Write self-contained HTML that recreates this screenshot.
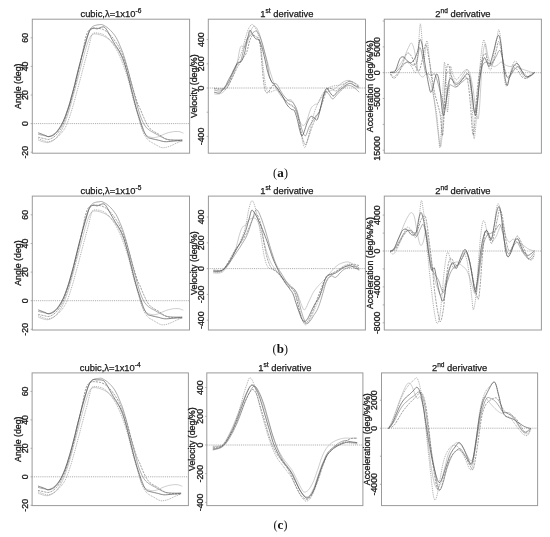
<!DOCTYPE html>
<html><head><meta charset="utf-8"><title>Figure</title>
<style>
html,body{margin:0;padding:0;background:#fff;}
svg{display:block;}
.wrap{width:550px;height:537px;overflow:hidden;}
.t{font-family:"Liberation Sans",Arial,sans-serif;font-size:8.8px;fill:#1a1a1a;stroke:#1a1a1a;stroke-width:0.3px;}
.tt{font-family:"Liberation Sans",Arial,sans-serif;font-size:9.4px;fill:#1a1a1a;stroke:#1a1a1a;stroke-width:0.25px;}
.cap{font-family:"Liberation Serif","Times New Roman",serif;font-size:13px;font-weight:bold;fill:#111;}
</style></head>
<body>
<div class="wrap"><svg width="550" height="537" viewBox="0 0 550 537">
<rect width="550" height="537" fill="#fff"/>
<line x1="32.3" x2="189.6" y1="123.6" y2="123.6" stroke="#8a8a8a" stroke-width="0.7" stroke-dasharray="1,0.9"/>
<polyline points="38.2,140.2 39.6,140.6 40.9,141.1 42.3,141.6 43.6,142.0 44.7,142.2 45.7,142.4 46.6,142.6 47.4,142.6 48.2,142.5 49.1,142.2 50.3,141.9 51.5,141.3 52.8,140.7 54.0,139.8 55.3,138.7 56.6,137.4 57.9,135.8 59.2,134.1 60.5,132.1 61.8,129.9 63.0,127.4 64.2,124.7 65.4,121.7 66.5,118.6 67.7,115.1 68.9,111.4 70.1,107.4 71.2,103.2 72.4,98.8 73.6,94.5 74.8,90.2 75.9,85.8 77.1,81.3 78.3,76.9 79.5,72.4 80.7,67.9 81.9,63.1 83.2,58.4 84.3,54.1 85.4,50.3 86.3,47.2 87.1,44.5 87.9,42.3 88.7,40.3 89.4,38.6 90.2,37.1 90.8,36.0 91.5,35.2 92.3,34.6 93.3,34.1 94.6,33.9 96.0,34.0 97.6,34.2 99.2,34.6 100.7,35.0 102.2,35.5 103.7,36.1 105.2,36.9 106.7,37.7 108.1,38.6 109.3,39.5 110.5,40.6 111.7,41.8 112.8,43.1 113.9,44.5 115.1,45.9 116.3,47.5 117.5,49.2 118.7,51.1 119.8,53.3 121.0,55.8 122.2,58.6 123.4,61.6 124.6,64.8 125.7,68.0 126.8,71.4 127.8,74.9 128.8,78.5 129.8,82.1 130.7,85.7 131.6,89.3 132.5,93.0 133.3,96.6 134.1,100.1 134.9,103.4 135.6,106.3 136.3,109.1 137.0,111.6 137.7,114.1 138.4,116.6 139.1,119.2 139.8,121.7 140.5,124.1 141.2,126.4 141.9,128.4 142.7,130.1 143.6,131.7 144.4,133.0 145.4,134.2 146.3,135.2 147.5,136.0 148.7,136.6 149.9,137.0 151.1,137.3 152.2,137.5 153.2,137.7 154.1,137.7 155.0,137.6 155.8,137.4 156.7,137.2 157.4,137.0 158.1,136.8 158.8,136.5 159.6,136.2 160.5,135.8 161.6,135.3 162.9,134.7 164.2,134.1 165.6,133.6 167.0,133.1 168.3,132.7 169.7,132.4 171.1,132.1 172.5,131.8 173.7,131.6 174.9,131.5 176.0,131.5 177.1,131.5 178.1,131.5 179.0,131.6 180.0,131.8 180.9,132.1 181.7,132.5 182.6,132.8 183.5,133.1" fill="none" stroke="#ababab" stroke-width="0.6"/>
<polyline points="38.2,138.7 39.6,139.2 40.9,139.7 42.3,140.3 43.6,140.7 44.7,141.1 45.7,141.4 46.5,141.6 47.3,141.8 48.1,141.8 49.1,141.7 50.4,141.3 51.8,140.8 53.2,140.2 54.8,139.3 56.3,138.1 58.0,136.7 59.7,134.9 61.5,132.9 63.2,130.8 64.8,128.4 66.1,125.9 67.3,123.2 68.4,120.2 69.5,117.1 70.6,113.7 71.8,110.0 73.0,105.9 74.2,101.7 75.4,97.4 76.5,93.1 77.7,88.7 78.9,84.3 80.1,79.9 81.3,75.4 82.4,71.0 83.7,66.4 84.9,61.6 86.2,57.0 87.3,52.6 88.3,48.9 89.1,45.7 89.7,43.0 90.3,40.7 90.7,38.8 91.2,37.1 91.6,35.8 91.9,34.8 92.2,34.1 92.7,33.7 93.3,33.3 94.3,33.0 95.4,32.9 96.7,32.9 98.0,33.1 99.2,33.3 100.4,33.5 101.6,33.9 102.8,34.3 103.9,34.9 105.1,35.6 106.3,36.5 107.5,37.6 108.6,38.8 109.8,40.1 111.0,41.5 112.2,43.0 113.4,44.6 114.5,46.4 115.7,48.2 116.9,50.3 118.1,52.6 119.2,55.1 120.4,57.8 121.6,60.6 122.8,63.6 124.0,66.9 125.2,70.4 126.4,74.0 127.6,77.7 128.7,81.3 129.7,84.9 130.6,88.6 131.5,92.3 132.3,95.8 133.1,98.9 133.9,101.7 134.6,104.1 135.3,106.3 135.9,108.5 136.6,110.7 137.3,113.1 138.1,115.5 138.8,117.9 139.5,120.2 140.2,122.5 140.8,124.8 141.5,127.0 142.1,129.1 142.8,131.1 143.4,132.8 144.0,134.2 144.6,135.3 145.2,136.2 145.8,137.0 146.3,137.8 146.9,138.5 147.3,139.2 147.8,139.7 148.3,140.2 149.0,140.8 149.8,141.4 150.8,141.9 151.8,142.5 152.9,143.1 154.0,143.7 155.2,144.4 156.6,145.2 158.0,146.0 159.3,146.7 160.5,147.3 161.5,147.5 162.4,147.7 163.2,147.7 164.0,147.7 164.9,147.5 165.9,147.4 166.9,147.1 168.0,146.8 169.1,146.5 170.2,146.1 171.3,145.6 172.4,145.1 173.5,144.5 174.6,144.0 175.8,143.4 177.0,142.9 178.3,142.4 179.6,141.8 181.0,141.3 182.3,140.8" fill="none" stroke="#767676" stroke-width="0.6" stroke-dasharray="1,0.9"/>
<polyline points="38.2,137.2 39.6,137.5 40.9,137.9 42.3,138.2 43.6,138.5 44.7,138.7 45.7,139.0 46.6,139.2 47.4,139.4 48.2,139.5 49.1,139.3 50.3,138.9 51.5,138.4 52.8,137.8 54.0,136.9 55.3,135.8 56.6,134.4 57.9,132.9 59.2,131.1 60.5,129.2 61.8,126.9 63.0,124.5 64.2,121.7 65.4,118.8 66.5,115.6 67.7,112.2 68.9,108.4 70.1,104.2 71.3,99.9 72.5,95.6 73.6,91.6 74.6,87.9 75.5,84.4 76.3,81.1 77.2,77.6 78.0,73.9 78.9,69.9 79.8,65.6 80.8,61.3 81.6,57.1 82.4,53.3 83.1,49.9 83.7,46.6 84.3,43.6 84.8,40.9 85.4,38.6 85.9,36.5 86.4,34.9 87.0,33.5 87.5,32.3 88.1,31.2 88.8,30.3 89.5,29.6 90.3,29.0 91.1,28.6 92.0,28.3 93.1,28.0 94.2,28.0 95.4,28.0 96.6,28.1 97.7,28.3 98.9,28.4 100.1,28.6 101.3,28.9 102.5,29.2 103.6,29.7 104.8,30.4 106.0,31.1 107.2,32.0 108.4,33.0 109.5,34.1 110.7,35.4 111.9,36.7 113.1,38.2 114.2,39.8 115.4,41.5 116.6,43.3 117.8,45.1 119.0,47.1 120.1,49.3 121.3,51.8 122.5,54.6 123.7,57.7 124.9,61.0 126.1,64.5 127.2,68.0 128.3,71.7 129.4,75.6 130.4,79.6 131.5,83.5 132.5,87.2 133.6,90.7 134.6,94.2 135.7,97.5 136.6,100.5 137.5,103.1 138.2,105.0 138.9,106.3 139.4,107.4 139.9,108.4 140.5,109.6 141.0,110.8 141.5,112.1 142.0,113.4 142.5,114.7 143.1,116.0 143.7,117.4 144.4,118.9 145.0,120.4 145.7,121.8 146.3,123.1 147.0,124.3 147.6,125.4 148.3,126.4 148.9,127.3 149.6,128.1 150.2,128.8 150.9,129.4 151.6,130.0 152.3,130.5 153.1,131.1 154.1,131.6 155.2,132.2 156.3,132.8 157.4,133.4 158.4,134.0 159.4,134.6 160.2,135.3 161.1,136.0 162.0,136.6 162.8,137.2 163.7,137.8 164.6,138.3 165.5,138.8 166.5,139.2 167.6,139.6 168.8,139.9 170.1,140.1 171.4,140.2 172.9,140.3 174.3,140.5 175.8,140.6 177.4,140.7 179.0,140.8 180.7,141.0 182.3,141.1" fill="none" stroke="#626262" stroke-width="0.6" stroke-dasharray="2.2,1"/>
<polyline points="38.2,134.3 39.6,134.6 40.9,134.9 42.3,135.2 43.6,135.5 44.7,135.8 45.7,136.0 46.6,136.3 47.4,136.5 48.2,136.5 49.1,136.4 50.3,136.0 51.5,135.5 52.8,134.8 54.0,133.9 55.3,132.8 56.6,131.5 57.9,130.0 59.2,128.2 60.5,126.2 61.8,124.0 63.0,121.5 64.2,118.8 65.4,115.9 66.5,112.7 67.7,109.3 68.9,105.6 70.1,101.6 71.2,97.4 72.4,93.0 73.6,88.6 74.8,84.1 75.9,79.3 77.1,74.4 78.3,69.6 79.5,65.1 80.7,60.6 81.9,56.3 83.2,52.0 84.3,48.1 85.4,44.5 86.3,41.2 87.1,38.2 87.9,35.6 88.7,33.2 89.4,31.2 90.2,29.6 90.9,28.4 91.6,27.5 92.4,26.8 93.3,26.2 94.4,25.6 95.6,25.3 96.9,25.0 98.1,24.8 99.2,24.7 100.1,24.6 100.8,24.5 101.4,24.5 102.1,24.7 103.0,25.0 104.2,25.6 105.4,26.3 106.8,27.2 108.2,28.3 109.5,29.4 110.8,30.7 112.2,32.2 113.5,33.8 114.8,35.5 116.0,37.4 117.2,39.5 118.3,41.8 119.4,44.3 120.4,46.7 121.3,48.9 122.1,50.8 122.8,52.6 123.4,54.3 123.9,56.1 124.6,58.0 125.2,60.1 125.8,62.3 126.5,64.6 127.1,66.9 127.8,69.5 128.5,72.2 129.3,75.1 130.0,78.0 130.8,81.1 131.6,84.2 132.5,87.5 133.4,91.0 134.3,94.5 135.2,97.9 136.0,101.0 136.8,103.9 137.5,106.6 138.2,109.1 138.9,111.5 139.6,113.7 140.3,115.7 141.0,117.7 141.7,119.4 142.4,121.0 143.1,122.5 143.8,123.8 144.5,125.0 145.2,126.0 145.9,126.9 146.6,127.8 147.4,128.6 148.2,129.3 149.0,129.9 149.9,130.5 150.8,131.1 151.7,131.7 152.8,132.2 153.8,132.8 155.0,133.4 156.1,134.0 157.2,134.6 158.4,135.3 159.6,136.0 160.8,136.7 162.0,137.2 163.0,137.7 163.9,138.2 164.9,138.6 165.9,139.0 167.0,139.3 168.2,139.5 169.5,139.7 170.8,139.8 172.2,139.8 173.7,139.9 175.3,139.9 177.0,139.9 178.8,139.9 180.5,139.9 182.3,139.9" fill="none" stroke="#747474" stroke-width="0.6"/>
<polyline points="38.2,132.8 39.6,133.3 40.9,133.8 42.3,134.3 43.6,134.8 44.7,135.2 45.7,135.6 46.6,136.0 47.4,136.4 48.2,136.7 49.1,136.6 50.3,136.4 51.5,136.1 52.8,135.5 54.0,134.8 55.3,133.7 56.6,132.4 57.9,130.8 59.2,128.9 60.5,126.9 61.8,124.6 63.0,122.1 64.2,119.4 65.4,116.4 66.5,113.3 67.7,109.8 68.9,106.2 70.1,102.2 71.2,98.0 72.4,93.7 73.6,89.2 74.8,84.6 75.9,79.7 77.1,74.8 78.3,69.8 79.5,65.1 80.7,60.4 81.9,55.6 83.2,51.0 84.3,46.7 85.4,43.0 86.3,39.8 87.1,37.1 87.9,34.8 88.7,32.8 89.4,31.2 90.2,30.0 91.0,29.2 91.8,28.8 92.6,28.5 93.3,28.3 94.1,28.2 94.9,28.3 95.6,28.6 96.4,28.8 97.2,28.8 97.9,28.7 98.6,28.3 99.3,28.0 100.0,27.6 100.7,27.4 101.4,27.2 102.1,27.0 102.9,26.9 103.6,26.9 104.2,27.1 104.8,27.5 105.4,28.1 106.0,28.8 106.6,29.7 107.2,30.6 107.8,31.6 108.4,32.7 109.0,33.9 109.7,35.2 110.4,36.5 111.2,37.9 112.1,39.5 113.0,41.1 113.9,42.7 114.8,44.2 115.7,45.5 116.5,46.7 117.3,47.9 118.1,49.2 119.0,50.6 119.8,52.2 120.7,53.9 121.6,55.6 122.5,57.6 123.4,59.8 124.2,62.3 125.1,65.0 125.9,67.9 126.7,70.9 127.5,73.9 128.3,76.9 129.1,80.1 129.9,83.2 130.6,86.3 131.3,89.2 132.0,92.0 132.7,94.6 133.3,97.2 134.0,99.6 134.6,101.9 135.1,104.0 135.7,106.0 136.2,107.9 136.7,109.6 137.2,111.3 137.7,112.9 138.2,114.5 138.7,115.9 139.1,117.3 139.6,118.7 140.0,120.0 140.4,121.3 140.8,122.5 141.2,123.7 141.6,124.9 142.0,126.0 142.5,127.2 142.9,128.3 143.3,129.4 143.7,130.5 144.1,131.5 144.5,132.4 144.9,133.3 145.3,134.1 145.8,134.9 146.2,135.5 146.6,136.1 147.1,136.7 147.5,137.1 148.1,137.5 148.7,137.9 149.4,138.1 150.2,138.3 151.0,138.5 151.9,138.7 153.1,139.0 154.3,139.3 155.7,139.6 157.1,139.9 158.4,140.2 159.7,140.5 160.9,140.9 162.1,141.2 163.5,141.5 164.9,141.7 166.5,141.7 168.3,141.6 170.1,141.4 172.0,141.2 173.7,141.1 175.5,140.9 177.2,140.7 178.9,140.6 180.6,140.4 182.3,140.2" fill="none" stroke="#505050" stroke-width="0.7"/>
<rect x="32.3" y="19.2" width="157.3" height="134.0" fill="none" stroke="#9a9a9a" stroke-width="1"/>
<line x1="30.7" x2="32.3" y1="37.8" y2="37.8" stroke="#9a9a9a" stroke-width="0.8"/>
<text x="28.1" y="37.8" transform="rotate(-90 28.1 37.8)" text-anchor="middle" class="t">60</text>
<line x1="30.7" x2="32.3" y1="66.4" y2="66.4" stroke="#9a9a9a" stroke-width="0.8"/>
<text x="28.1" y="66.4" transform="rotate(-90 28.1 66.4)" text-anchor="middle" class="t">40</text>
<line x1="30.7" x2="32.3" y1="95.0" y2="95.0" stroke="#9a9a9a" stroke-width="0.8"/>
<text x="28.1" y="95.0" transform="rotate(-90 28.1 95.0)" text-anchor="middle" class="t">20</text>
<line x1="30.7" x2="32.3" y1="123.6" y2="123.6" stroke="#9a9a9a" stroke-width="0.8"/>
<text x="28.1" y="123.6" transform="rotate(-90 28.1 123.6)" text-anchor="middle" class="t">0</text>
<line x1="30.7" x2="32.3" y1="152.2" y2="152.2" stroke="#9a9a9a" stroke-width="0.8"/>
<text x="28.1" y="152.2" transform="rotate(-90 28.1 152.2)" text-anchor="middle" class="t">-20</text>
<text x="20.9" y="86.2" transform="rotate(-90 20.9 86.2)" text-anchor="middle" class="t">Angle (deg)</text>
<text x="110.9" y="17.0" text-anchor="middle" class="tt">cubic,λ=1x10<tspan dy="-3.6" font-size="6.6">-6</tspan></text>
<line x1="208.3" x2="365.5" y1="88.0" y2="88.0" stroke="#8a8a8a" stroke-width="0.7" stroke-dasharray="1,0.9"/>
<polyline points="214.2,93.9 215.3,94.0 216.3,94.1 217.3,94.1 218.3,94.1 219.3,93.9 220.2,93.7 221.1,93.3 221.9,92.9 222.8,92.3 223.7,91.6 224.6,90.7 225.4,89.6 226.3,88.4 227.2,87.1 228.1,85.7 229.0,84.2 229.9,82.6 230.7,80.8 231.6,79.0 232.5,76.9 233.4,74.5 234.3,71.9 235.3,69.2 236.1,66.4 236.9,63.6 237.6,60.6 238.3,57.3 238.8,54.0 239.4,51.1 239.9,48.9 240.3,47.5 240.7,46.6 241.1,46.2 241.5,46.0 241.9,45.9 242.4,46.0 242.8,46.5 243.3,47.0 243.8,47.4 244.3,47.4 244.8,47.0 245.4,46.3 246.0,45.5 246.6,44.3 247.2,43.0 247.8,41.2 248.4,39.1 249.0,36.8 249.6,34.5 250.2,32.7 250.8,31.1 251.4,29.7 251.9,28.5 252.5,27.5 253.1,26.8 253.7,26.4 254.3,26.3 254.9,26.5 255.5,26.8 256.1,27.4 256.7,28.0 257.3,28.9 257.8,30.0 258.4,31.2 259.0,32.7 259.6,34.4 260.2,36.4 260.8,38.6 261.4,40.8 262.0,43.0 262.6,45.0 263.1,47.1 263.7,49.2 264.3,51.2 264.9,53.3 265.5,55.4 266.1,57.4 266.7,59.5 267.3,61.5 267.9,63.6 268.4,65.7 269.0,67.7 269.6,69.8 270.2,71.8 270.8,73.9 271.5,76.0 272.2,78.2 272.9,80.3 273.6,82.3 274.3,84.2 275.1,85.9 275.8,87.4 276.6,88.9 277.4,90.3 278.2,91.6 278.9,92.9 279.7,94.2 280.4,95.4 281.2,96.5 282.0,97.5 282.8,98.3 283.6,99.0 284.4,99.6 285.3,100.1 286.1,100.4 287.1,100.5 288.0,100.2 289.0,99.9 290.0,99.7 290.8,99.8 291.5,100.2 292.1,100.7 292.7,101.4 293.2,102.3 293.8,103.4 294.4,104.8 295.0,106.5 295.5,108.4 296.1,110.3 296.7,112.2 297.3,114.0 297.9,115.9 298.4,117.8 299.0,119.6 299.7,121.0 300.3,122.3 301.0,123.5 301.8,124.5 302.5,125.2 303.2,125.5 303.9,125.3 304.6,124.7 305.3,123.8 306.0,122.5 306.7,121.0 307.5,119.0 308.2,116.5 309.0,113.8 309.8,111.3 310.6,109.3 311.3,107.9 312.1,106.8 312.9,106.0 313.6,105.4 314.4,104.8 315.1,104.4 315.8,104.2 316.5,104.1 317.2,103.9 317.9,103.4 318.6,102.4 319.3,101.3 320.0,99.9 320.7,98.6 321.5,97.5 322.2,96.5 322.9,95.5 323.7,94.6 324.5,93.8 325.3,93.1 326.1,92.5 327.0,92.0 327.9,91.7 328.8,91.3 329.7,91.0 330.6,90.7 331.5,90.4 332.4,90.0 333.2,89.7 334.1,89.2 335.0,88.6 335.9,87.9 336.8,87.2 337.7,86.4 338.5,85.7 339.4,85.0 340.3,84.2 341.2,83.4 342.0,82.8 343.0,82.2 343.9,81.6 344.9,81.2 345.9,80.8 346.9,80.5 348.0,80.4 349.0,80.5 350.0,80.8 351.1,81.2 352.2,81.6 353.3,82.2 354.4,82.8 355.6,83.4 356.8,84.2 358.0,85.0 359.2,85.7" fill="none" stroke="#ababab" stroke-width="0.6"/>
<polyline points="214.2,88.0 215.3,88.2 216.3,88.3 217.3,88.5 218.3,88.6 219.3,88.6 220.2,88.7 221.1,88.7 221.9,88.7 222.8,88.5 223.7,88.0 224.6,87.3 225.4,86.4 226.3,85.3 227.2,84.1 228.1,82.7 229.0,81.2 229.9,79.5 230.7,77.7 231.6,75.8 232.5,73.9 233.4,71.9 234.3,69.9 235.2,67.8 236.0,65.7 236.9,63.6 237.8,61.6 238.7,59.6 239.6,57.6 240.5,55.5 241.3,53.3 242.1,50.8 242.8,48.1 243.5,45.3 244.2,42.5 244.9,40.0 245.5,37.7 246.2,35.5 246.8,33.3 247.5,31.4 248.1,29.7 248.8,28.2 249.5,26.9 250.3,25.8 251.0,24.9 251.7,24.4 252.3,24.4 252.9,24.6 253.5,25.2 254.0,26.0 254.6,26.8 255.2,27.6 255.8,28.6 256.4,29.7 257.0,31.1 257.5,32.7 258.1,34.6 258.8,36.7 259.4,39.0 260.0,41.6 260.5,44.5 261.0,47.7 261.4,51.2 261.8,55.0 262.2,58.7 262.6,62.1 262.9,65.3 263.3,68.4 263.6,71.3 264.0,74.1 264.3,76.9 264.7,79.5 265.1,82.2 265.5,84.7 265.9,86.9 266.4,88.6 266.9,89.9 267.5,90.9 268.0,91.5 268.7,91.9 269.3,92.2 270.0,92.2 270.8,92.0 271.6,91.7 272.4,91.3 273.2,91.0 273.9,90.7 274.6,90.4 275.2,90.1 275.9,89.9 276.7,90.1 277.5,90.6 278.4,91.4 279.3,92.4 280.2,93.5 281.1,94.5 282.0,95.6 282.9,96.8 283.8,98.1 284.6,99.3 285.5,100.4 286.4,101.4 287.3,102.4 288.2,103.2 289.1,104.1 289.9,104.8 290.9,105.5 291.8,106.1 292.7,106.6 293.6,107.1 294.4,107.8 295.1,108.5 295.7,109.1 296.2,109.8 296.8,110.8 297.3,112.2 297.8,114.0 298.3,116.2 298.8,118.7 299.2,121.3 299.7,124.0 300.1,126.8 300.6,129.9 301.1,133.1 301.5,136.1 302.0,138.7 302.5,141.1 303.0,143.4 303.6,145.5 304.1,146.9 304.7,147.5 305.2,147.2 305.8,146.1 306.4,144.3 307.0,142.3 307.6,140.2 308.2,137.9 308.8,135.4 309.3,132.6 309.9,129.8 310.6,126.9 311.3,124.0 312.0,120.9 312.8,117.7 313.6,114.8 314.4,112.2 315.1,110.0 315.8,108.2 316.5,106.5 317.2,104.9 317.9,103.4 318.6,101.8 319.3,100.2 320.0,98.8 320.7,97.4 321.5,96.0 322.2,94.7 322.9,93.4 323.7,92.2 324.5,91.1 325.3,90.1 326.1,89.3 327.0,88.6 327.9,88.1 328.8,87.6 329.7,87.2 330.7,86.8 331.8,86.4 332.9,86.1 334.0,85.9 335.0,85.7 336.0,85.5 337.0,85.4 338.0,85.4 339.0,85.3 340.0,85.1 341.0,84.8 342.0,84.5 343.0,84.1 344.0,83.7 345.0,83.3 346.1,82.8 347.2,82.2 348.3,81.6 349.3,81.3 350.3,81.3 351.3,81.8 352.2,82.6 353.0,83.7 353.9,84.8 354.7,85.7 355.6,86.4 356.5,87.0 357.4,87.5 358.3,88.1 359.2,88.6" fill="none" stroke="#767676" stroke-width="0.6" stroke-dasharray="1,0.9"/>
<polyline points="214.2,88.6 215.3,88.8 216.3,88.9 217.3,89.1 218.3,89.2 219.3,89.2 220.2,89.2 221.1,89.2 222.0,89.1 222.9,89.0 223.7,88.9 224.4,88.9 225.0,89.1 225.6,89.1 226.2,88.9 226.9,88.3 227.6,87.3 228.4,85.8 229.2,84.0 230.0,82.3 230.7,80.7 231.5,79.2 232.2,77.8 232.9,76.4 233.6,75.0 234.3,73.6 234.9,72.3 235.5,71.0 236.1,69.8 236.6,68.6 237.2,67.4 237.8,66.4 238.4,65.5 239.0,64.6 239.6,63.7 240.2,62.7 240.8,61.7 241.5,60.7 242.2,59.6 242.8,58.6 243.4,57.7 243.9,56.9 244.4,56.2 244.9,55.6 245.3,54.9 245.8,54.2 246.2,53.4 246.5,52.5 246.9,51.6 247.2,50.6 247.5,49.5 247.9,48.1 248.2,46.6 248.6,45.0 248.9,43.4 249.3,42.1 249.6,40.9 250.0,39.9 250.3,39.0 250.7,38.1 251.1,37.4 251.4,36.7 251.8,36.1 252.2,35.6 252.7,35.2 253.1,35.0 253.7,35.1 254.3,35.4 254.9,35.9 255.5,36.4 256.1,36.8 256.6,37.0 257.1,37.2 257.5,37.3 258.0,37.8 258.4,38.6 258.9,39.7 259.3,41.2 259.7,42.9 260.1,45.0 260.5,47.4 260.8,50.4 261.1,53.8 261.4,57.6 261.7,61.4 262.0,65.1 262.3,68.7 262.7,72.6 263.0,76.3 263.4,79.8 263.7,82.7 264.1,85.2 264.4,87.3 264.7,89.1 265.1,90.5 265.5,91.6 266.0,92.3 266.6,92.8 267.1,92.8 267.8,92.6 268.4,92.2 269.2,91.2 269.9,89.7 270.7,88.1 271.5,86.6 272.3,85.7 273.0,85.4 273.8,85.5 274.6,85.9 275.3,86.5 276.1,87.2 276.9,87.9 277.7,88.8 278.6,89.9 279.4,91.0 280.2,92.2 281.0,93.5 281.8,94.9 282.5,96.3 283.3,97.7 284.1,98.9 284.8,100.0 285.6,101.0 286.4,101.9 287.1,102.7 287.9,103.4 288.6,103.8 289.3,104.1 290.0,104.2 290.7,104.4 291.4,104.8 292.1,105.4 292.9,106.0 293.6,106.7 294.3,107.6 295.0,108.7 295.6,109.9 296.2,111.4 296.8,113.0 297.4,114.7 297.9,116.6 298.4,118.7 298.9,121.1 299.3,123.5 299.8,126.0 300.3,128.4 300.8,130.9 301.4,133.5 302.0,136.0 302.6,138.3 303.2,140.2 303.7,141.7 304.2,143.0 304.6,144.0 305.1,144.6 305.6,144.6 306.1,143.9 306.7,142.6 307.3,141.0 307.9,139.1 308.5,137.2 309.2,135.3 309.9,133.3 310.6,131.1 311.3,128.9 312.0,126.9 312.7,125.0 313.4,123.2 314.1,121.5 314.8,119.7 315.6,118.1 316.3,116.6 317.1,115.2 317.9,113.8 318.6,112.4 319.4,110.7 320.2,108.9 320.9,106.8 321.7,104.7 322.5,102.5 323.2,100.4 323.9,98.2 324.6,95.9 325.3,93.6 326.0,91.6 326.8,90.1 327.6,89.2 328.5,88.7 329.4,88.5 330.3,88.5 331.2,88.6 332.1,88.9 333.0,89.6 333.8,90.2 334.7,90.8 335.6,91.0 336.5,90.8 337.4,90.2 338.3,89.5 339.1,88.8 340.0,88.0 340.9,87.3 341.7,86.5 342.6,85.7 343.5,84.9 344.4,84.2 345.4,83.5 346.5,82.7 347.6,82.0 348.7,81.5 349.7,81.3 350.8,81.3 351.8,81.7 352.8,82.1 353.8,82.7 354.7,83.3 355.7,84.0 356.6,84.7 357.4,85.5 358.3,86.4 359.2,87.2" fill="none" stroke="#626262" stroke-width="0.6" stroke-dasharray="2.2,1"/>
<polyline points="214.2,90.1 215.3,90.3 216.3,90.6 217.3,90.8 218.3,91.0 219.3,91.0 220.2,90.9 221.1,90.7 221.9,90.4 222.8,89.9 223.7,89.2 224.6,88.4 225.4,87.3 226.3,86.1 227.2,84.8 228.1,83.3 229.0,81.7 229.9,79.8 230.7,77.8 231.6,75.8 232.5,73.9 233.4,72.0 234.3,70.1 235.2,68.3 236.1,66.5 236.9,65.1 237.7,64.0 238.5,63.4 239.3,62.8 240.0,62.0 240.8,60.7 241.5,58.5 242.2,55.8 242.9,52.8 243.6,49.9 244.3,47.4 244.9,45.3 245.5,43.3 246.1,41.5 246.7,39.9 247.2,38.6 247.8,37.6 248.4,37.0 249.0,36.6 249.6,36.2 250.2,35.6 250.9,34.9 251.6,34.1 252.3,33.3 253.0,32.6 253.7,32.1 254.3,31.7 254.9,31.3 255.5,31.0 256.1,31.0 256.7,31.2 257.3,31.7 257.8,32.4 258.4,33.3 259.0,34.4 259.6,35.6 260.2,37.1 260.8,38.8 261.4,40.7 262.0,42.6 262.6,44.5 263.1,46.2 263.5,47.9 264.0,49.7 264.4,51.4 264.9,53.3 265.4,55.2 265.9,57.2 266.3,59.3 266.8,61.4 267.3,63.6 267.7,65.9 268.1,68.4 268.5,70.9 268.9,73.3 269.3,75.4 269.8,77.2 270.4,78.9 270.9,80.4 271.6,81.7 272.3,82.7 273.1,83.3 274.0,83.5 274.9,83.6 275.8,83.7 276.7,84.2 277.5,85.1 278.2,86.3 278.8,87.5 279.5,88.9 280.2,90.1 281.0,91.3 281.7,92.5 282.5,93.8 283.2,94.9 284.1,96.0 284.9,97.0 285.8,98.0 286.7,98.9 287.6,99.7 288.5,100.4 289.3,100.9 290.0,101.2 290.7,101.3 291.4,101.6 292.0,101.9 292.6,102.4 293.0,102.9 293.5,103.5 293.9,104.1 294.4,104.8 294.8,105.5 295.3,106.1 295.7,106.9 296.2,107.9 296.7,109.3 297.3,111.2 297.9,113.5 298.5,116.1 299.1,118.7 299.7,121.0 300.3,123.3 300.8,125.6 301.4,127.7 302.0,129.7 302.6,131.3 303.2,132.8 303.8,134.2 304.3,135.2 304.9,135.8 305.6,135.8 306.2,134.8 306.9,133.0 307.7,130.9 308.4,128.7 309.1,126.9 309.8,125.6 310.5,124.4 311.2,123.3 311.9,122.2 312.6,121.0 313.4,119.8 314.2,118.5 315.0,117.3 315.7,116.1 316.5,115.1 317.1,114.5 317.7,114.2 318.3,113.9 318.8,113.3 319.4,112.2 320.0,110.4 320.6,108.0 321.2,105.3 321.8,102.7 322.3,100.4 322.9,98.3 323.5,96.1 324.1,94.1 324.6,92.5 325.3,91.6 326.0,91.4 326.8,91.8 327.6,92.7 328.4,93.7 329.1,94.5 329.8,95.5 330.5,96.6 331.2,97.7 331.9,98.6 332.7,98.9 333.5,98.6 334.4,97.8 335.3,96.7 336.2,95.6 337.1,94.5 338.0,93.6 338.8,92.7 339.7,91.8 340.6,91.0 341.5,90.1 342.4,89.3 343.3,88.4 344.1,87.6 345.0,86.8 345.9,86.3 346.8,85.9 347.7,85.7 348.6,85.6 349.4,85.6 350.3,85.7 351.2,85.9 352.1,86.3 353.0,86.8 353.9,87.4 354.7,88.0 355.6,88.8 356.5,89.6 357.4,90.4 358.3,91.3 359.2,92.2" fill="none" stroke="#747474" stroke-width="0.6"/>
<polyline points="214.2,92.2 215.3,92.4 216.3,92.7 217.4,93.0 218.4,93.1 219.3,93.1 220.0,92.8 220.6,92.3 221.1,91.8 221.6,91.1 222.2,90.4 222.9,89.6 223.6,88.7 224.4,87.7 225.1,86.7 225.7,85.7 226.3,84.7 226.7,83.8 227.1,82.8 227.6,81.7 228.1,80.7 228.7,79.6 229.3,78.4 230.0,77.2 230.7,76.0 231.3,74.8 231.9,73.6 232.5,72.3 233.1,71.0 233.7,69.8 234.3,68.6 234.9,67.4 235.5,66.2 236.1,65.1 236.7,64.1 237.2,63.3 237.7,62.8 238.2,62.5 238.7,62.4 239.1,62.3 239.6,62.1 240.0,61.9 240.4,61.8 240.9,61.7 241.3,61.4 241.6,60.9 242.0,60.3 242.4,59.5 242.7,58.6 243.1,57.6 243.4,56.5 243.8,55.5 244.1,54.4 244.5,53.2 244.9,51.9 245.2,50.6 245.4,49.3 245.7,47.8 245.9,46.3 246.1,44.8 246.4,43.3 246.7,41.8 247.0,40.4 247.4,38.9 247.8,37.5 248.1,36.2 248.5,34.8 248.8,33.3 249.1,31.9 249.5,30.9 249.9,30.3 250.4,30.5 250.9,31.1 251.4,32.1 252.0,33.2 252.5,34.1 253.1,35.0 253.7,36.0 254.2,37.0 254.9,37.9 255.5,38.6 256.2,39.0 256.9,39.1 257.6,39.2 258.3,39.4 259.0,40.0 259.6,41.1 260.2,42.3 260.8,43.9 261.4,45.6 262.0,47.4 262.6,49.5 263.1,51.7 263.7,54.2 264.3,56.7 264.9,59.2 265.5,61.8 266.1,64.6 266.6,67.4 267.2,70.0 267.9,72.4 268.5,74.6 269.2,76.5 269.9,78.3 270.7,79.9 271.4,81.3 272.1,82.4 272.9,83.3 273.7,84.1 274.4,84.8 275.2,85.7 276.0,86.7 276.7,87.7 277.5,88.7 278.3,89.8 279.0,91.0 279.9,92.2 280.7,93.5 281.5,94.8 282.4,96.1 283.2,97.5 283.9,98.9 284.7,100.5 285.4,102.1 286.2,103.5 287.0,104.8 287.9,106.0 288.8,107.0 289.7,107.8 290.6,108.6 291.4,109.3 292.1,109.6 292.7,109.7 293.3,109.8 293.8,110.0 294.4,110.7 295.0,112.0 295.6,113.7 296.2,115.6 296.8,117.6 297.3,119.6 297.8,121.6 298.3,123.8 298.8,126.0 299.2,128.1 299.7,129.9 300.1,131.5 300.5,133.0 300.9,134.3 301.3,135.2 301.7,135.8 302.1,135.8 302.5,135.5 302.9,134.8 303.3,133.9 303.8,132.8 304.3,131.4 304.9,129.6 305.5,127.7 306.1,125.8 306.7,124.0 307.4,122.3 308.2,120.5 309.0,118.9 309.8,117.5 310.6,116.6 311.3,116.3 312.1,116.6 312.9,117.1 313.7,117.7 314.4,118.1 315.0,118.6 315.6,119.4 316.2,120.0 316.7,120.2 317.3,119.6 318.0,117.8 318.7,115.3 319.5,112.2 320.2,109.1 320.9,106.3 321.5,103.8 322.1,101.2 322.7,98.8 323.2,96.5 323.8,94.5 324.4,92.7 325.0,91.0 325.6,89.6 326.2,88.6 326.8,88.0 327.3,88.2 327.9,88.9 328.5,90.0 329.1,91.2 329.7,92.2 330.4,93.1 331.1,94.1 331.8,95.0 332.5,95.7 333.2,96.0 334.0,95.7 334.7,95.0 335.5,94.1 336.3,93.0 337.1,92.2 337.9,91.4 338.8,90.7 339.7,90.0 340.6,89.3 341.5,88.6 342.4,87.9 343.3,87.1 344.1,86.4 345.0,85.7 345.9,85.1 346.8,84.6 347.7,84.1 348.6,83.7 349.4,83.4 350.3,83.3 351.2,83.6 352.1,84.0 353.0,84.6 353.9,85.2 354.7,85.7 355.6,86.0 356.5,86.3 357.4,86.6 358.3,86.9 359.2,87.2" fill="none" stroke="#505050" stroke-width="0.7"/>
<rect x="208.3" y="19.2" width="157.2" height="134.0" fill="none" stroke="#9a9a9a" stroke-width="1"/>
<line x1="206.7" x2="208.3" y1="39.6" y2="39.6" stroke="#9a9a9a" stroke-width="0.8"/>
<text x="204.1" y="39.6" transform="rotate(-90 204.1 39.6)" text-anchor="middle" class="t">400</text>
<line x1="206.7" x2="208.3" y1="63.8" y2="63.8" stroke="#9a9a9a" stroke-width="0.8"/>
<text x="204.1" y="63.8" transform="rotate(-90 204.1 63.8)" text-anchor="middle" class="t">200</text>
<line x1="206.7" x2="208.3" y1="88.0" y2="88.0" stroke="#9a9a9a" stroke-width="0.8"/>
<text x="204.1" y="88.0" transform="rotate(-90 204.1 88.0)" text-anchor="middle" class="t">0</text>
<line x1="206.7" x2="208.3" y1="112.2" y2="112.2" stroke="#9a9a9a" stroke-width="0.8"/>
<line x1="206.7" x2="208.3" y1="136.4" y2="136.4" stroke="#9a9a9a" stroke-width="0.8"/>
<text x="204.1" y="136.4" transform="rotate(-90 204.1 136.4)" text-anchor="middle" class="t">-400</text>
<text x="196.9" y="86.2" transform="rotate(-90 196.9 86.2)" text-anchor="middle" class="t">Velocity (deg/%)</text>
<text x="286.9" y="17.0" text-anchor="middle" class="tt">1<tspan dy="-3.6" font-size="6.6">st</tspan><tspan dy="3.6"> derivative</tspan></text>
<line x1="384.3" x2="541.4" y1="72.7" y2="72.7" stroke="#8a8a8a" stroke-width="0.7" stroke-dasharray="1,0.9"/>
<polyline points="390.2,72.4 391.3,72.1 392.3,71.8 393.3,71.4 394.3,71.0 395.3,70.4 396.2,69.6 397.1,68.6 397.9,67.5 398.8,66.3 399.7,65.1 400.6,63.8 401.4,62.4 402.3,61.0 403.2,59.4 404.1,57.7 405.0,55.7 405.9,53.5 406.8,51.2 407.7,49.1 408.5,47.4 409.2,46.0 409.8,44.6 410.3,43.6 410.9,43.0 411.5,43.0 412.0,43.5 412.6,44.6 413.2,46.1 413.8,48.0 414.4,50.3 415.0,53.4 415.6,57.2 416.2,61.2 416.8,65.0 417.3,68.0 417.9,70.2 418.5,72.0 419.1,73.4 419.7,74.5 420.3,75.4 420.9,76.1 421.5,76.6 422.1,76.9 422.6,76.9 423.2,76.9 423.8,76.4 424.4,75.6 425.0,74.8 425.6,74.1 426.2,73.9 426.8,74.2 427.4,74.9 427.9,75.8 428.5,76.9 429.1,78.3 429.7,79.9 430.3,81.7 430.9,83.7 431.5,86.0 432.1,88.6 432.7,91.7 433.3,95.0 433.9,98.7 434.5,102.5 435.0,106.3 435.5,110.3 436.0,114.6 436.5,119.0 436.9,123.1 437.4,126.9 437.8,130.4 438.2,133.7 438.7,136.8 439.1,139.5 439.4,141.7 439.8,143.6 440.1,145.3 440.3,146.5 440.6,146.9 440.9,146.1 441.2,144.0 441.6,140.9 442.0,136.9 442.3,132.2 442.7,126.9 443.0,120.6 443.4,113.1 443.7,105.2 444.1,97.8 444.4,91.6 444.8,86.7 445.1,82.5 445.4,79.0 445.8,76.1 446.2,73.9 446.7,72.5 447.3,71.8 447.9,71.7 448.5,72.0 449.2,72.4 449.8,73.2 450.5,74.3 451.3,75.7 452.0,77.1 452.7,78.3 453.4,79.4 454.1,80.6 454.8,81.6 455.5,82.4 456.2,82.7 457.0,82.7 457.7,82.2 458.5,81.5 459.3,80.7 460.1,79.8 460.8,78.8 461.6,77.6 462.4,76.3 463.1,75.0 463.9,73.9 464.6,72.8 465.3,71.5 466.1,70.4 466.8,69.7 467.4,69.5 468.1,69.9 468.7,70.8 469.3,72.1 469.8,73.7 470.4,75.4 470.9,77.3 471.4,79.5 471.8,82.0 472.3,84.5 472.7,87.2 473.2,90.0 473.6,93.0 474.0,96.1 474.4,99.1 474.8,101.9 475.2,104.5 475.5,107.1 475.9,109.6 476.2,111.8 476.6,113.7 476.9,115.4 477.3,117.1 477.6,118.5 478.0,119.1 478.3,118.7 478.6,117.1 478.9,114.6 479.2,111.3 479.5,107.5 479.8,103.4 480.1,98.7 480.4,93.4 480.7,87.8 481.0,82.1 481.3,76.9 481.6,71.7 482.0,66.4 482.3,61.4 482.7,56.9 483.0,53.3 483.3,50.7 483.7,48.9 483.9,47.7 484.2,46.8 484.5,45.9 484.7,45.0 484.9,44.3 485.1,43.8 485.4,43.8 485.7,44.5 486.1,46.0 486.5,48.4 487.0,51.2 487.5,54.0 488.0,56.2 488.6,58.1 489.2,59.7 489.8,61.2 490.4,62.5 491.0,63.6 491.6,64.5 492.1,65.3 492.7,65.9 493.3,66.3 493.9,66.5 494.6,66.6 495.3,66.3 496.0,66.0 496.7,65.5 497.5,65.1 498.2,64.5 498.9,63.7 499.7,63.0 500.5,62.4 501.3,62.1 502.1,62.4 503.0,63.0 503.9,63.7 504.8,64.5 505.7,65.1 506.6,65.5 507.5,65.9 508.4,66.2 509.2,66.5 510.1,66.5 511.0,66.4 511.9,66.0 512.8,65.5 513.7,65.1 514.5,65.1 515.4,65.4 516.3,66.0 517.2,66.7 518.1,67.5 519.0,68.0 519.8,68.4 520.7,68.7 521.6,69.0 522.5,69.2 523.4,69.5 524.3,69.8 525.2,70.1 526.0,70.4 526.9,70.7 527.8,71.0 528.7,71.3 529.7,71.6 530.6,72.0 531.5,72.2 532.2,72.4 532.8,72.5 533.3,72.5 533.7,72.5 534.1,72.5 534.6,72.4" fill="none" stroke="#ababab" stroke-width="0.6"/>
<polyline points="390.2,72.4 390.9,73.5 391.6,74.6 392.3,75.7 393.0,76.5 393.8,76.9 394.6,76.6 395.5,75.8 396.4,74.7 397.3,73.6 398.2,72.4 399.1,71.3 400.0,70.1 400.9,68.9 401.7,67.7 402.6,66.5 403.5,65.4 404.4,64.2 405.3,63.2 406.2,62.4 407.0,62.1 407.9,62.4 408.8,63.2 409.7,64.2 410.6,65.4 411.5,66.5 412.4,68.0 413.3,70.0 414.3,71.8 415.1,72.8 415.9,72.4 416.4,70.4 416.9,67.1 417.2,62.9 417.5,58.2 417.9,53.3 418.4,47.3 418.9,39.8 419.4,32.5 419.8,26.7 420.3,23.8 420.7,24.8 421.2,28.8 421.6,34.2 422.0,39.9 422.4,44.5 422.7,48.3 423.1,52.3 423.4,55.8 423.8,58.3 424.1,59.2 424.5,57.7 425.0,54.2 425.4,49.8 425.8,45.7 426.2,43.0 426.5,41.6 426.8,40.9 427.1,40.8 427.3,41.5 427.7,43.0 428.0,45.6 428.4,49.2 428.8,53.4 429.3,57.9 429.7,62.1 430.2,66.2 430.6,70.4 431.1,74.6 431.6,78.8 432.1,82.7 432.5,86.5 433.0,90.2 433.5,93.7 434.0,97.1 434.4,100.4 434.9,103.5 435.4,106.4 435.9,109.2 436.4,112.1 436.8,115.1 437.2,118.5 437.6,122.1 437.9,125.8 438.2,129.4 438.6,132.8 438.8,136.5 439.0,140.6 439.2,144.3 439.5,146.9 439.7,147.5 440.1,146.0 440.4,142.7 440.8,138.1 441.2,132.7 441.5,126.9 441.8,120.2 442.1,112.3 442.4,104.0 442.7,95.8 443.0,88.6 443.3,81.8 443.5,74.9 443.8,68.8 444.1,64.2 444.4,62.1 444.8,63.1 445.2,66.6 445.5,71.6 445.9,77.3 446.2,82.7 446.5,88.9 446.7,96.3 446.9,103.6 447.1,109.4 447.4,112.2 447.7,111.4 448.1,107.8 448.5,102.6 448.8,96.8 449.2,91.6 449.4,86.3 449.6,80.3 449.8,74.4 450.0,69.6 450.3,66.5 450.7,66.0 451.1,67.2 451.6,69.5 452.1,72.0 452.7,73.9 453.3,75.3 454.0,76.8 454.8,78.2 455.5,79.2 456.2,79.8 456.8,79.8 457.4,79.3 458.0,78.6 458.5,77.7 459.2,76.9 459.9,76.0 460.7,75.1 461.5,74.2 462.3,73.3 463.0,72.4 463.6,71.6 464.2,70.8 464.8,70.1 465.4,69.6 465.9,69.5 466.6,69.7 467.2,70.1 467.8,70.8 468.4,72.1 468.9,73.9 469.4,76.5 469.8,79.7 470.2,83.5 470.6,87.5 471.0,91.6 471.3,95.9 471.7,100.6 472.1,105.4 472.4,110.3 472.7,115.1 473.0,120.4 473.2,126.3 473.4,131.8 473.6,136.3 473.9,138.7 474.2,138.9 474.6,137.3 474.9,134.4 475.3,130.8 475.7,126.9 476.1,122.5 476.5,117.2 476.9,111.5 477.3,105.8 477.7,100.4 478.1,95.5 478.3,90.8 478.6,86.1 478.9,81.5 479.2,76.9 479.6,72.0 480.0,66.9 480.4,62.0 480.8,57.3 481.3,53.3 481.7,49.7 482.2,46.3 482.7,43.4 483.2,41.2 483.6,40.0 484.0,40.0 484.5,41.0 484.9,42.7 485.3,44.9 485.7,47.4 486.1,50.5 486.6,54.4 487.0,58.5 487.5,62.2 488.0,65.1 488.6,67.1 489.2,68.8 489.8,69.8 490.4,70.1 491.0,69.5 491.6,67.5 492.2,64.4 492.8,60.7 493.3,56.8 493.9,53.3 494.5,50.2 495.1,47.0 495.8,44.0 496.3,41.1 496.9,38.6 497.3,36.0 497.7,33.5 498.1,31.3 498.5,29.9 498.9,29.7 499.4,31.0 499.9,33.5 500.4,36.8 500.8,40.6 501.3,44.5 501.7,48.7 502.1,53.5 502.5,58.6 502.9,63.5 503.4,68.0 503.8,72.3 504.2,76.6 504.7,80.6 505.2,83.8 505.7,85.7 506.3,86.1 506.8,85.4 507.4,83.8 508.0,81.8 508.7,79.8 509.3,77.5 510.1,74.7 510.8,71.7 511.5,68.8 512.2,66.5 512.8,64.7 513.4,63.2 514.0,61.9 514.6,61.1 515.1,60.7 515.7,60.8 516.3,61.5 516.8,62.5 517.4,63.7 518.1,65.1 518.8,66.6 519.5,68.5 520.3,70.5 521.1,72.4 521.9,73.9 522.8,75.2 523.6,76.4 524.5,77.4 525.4,78.1 526.3,78.3 527.2,78.0 528.1,77.1 529.0,75.9 529.9,74.7 530.7,73.9 531.6,73.4 532.3,73.1 533.1,72.9 533.8,72.7 534.6,72.4" fill="none" stroke="#767676" stroke-width="0.6" stroke-dasharray="1,0.9"/>
<polyline points="390.2,73.9 390.9,74.9 391.6,76.1 392.3,77.2 393.0,78.0 393.8,78.3 394.6,78.1 395.5,77.5 396.4,76.5 397.3,75.3 398.2,73.9 399.1,72.2 400.0,70.2 400.9,68.0 401.7,65.8 402.6,63.6 403.5,61.3 404.4,58.8 405.3,56.5 406.2,54.5 407.0,53.3 407.9,52.9 408.8,53.2 409.8,54.0 410.6,55.1 411.5,56.2 412.2,57.7 412.9,59.5 413.6,61.5 414.3,63.4 415.0,65.1 415.8,66.7 416.5,68.3 417.3,69.8 418.1,70.8 418.8,71.0 419.5,70.3 420.0,68.9 420.6,67.0 421.1,64.7 421.8,62.1 422.5,58.7 423.3,54.3 424.1,49.8 424.9,46.2 425.6,44.5 426.2,44.8 426.8,46.8 427.4,49.7 428.0,53.0 428.5,56.2 429.1,59.4 429.7,62.9 430.3,66.6 430.9,70.3 431.5,73.9 432.1,77.5 432.7,81.3 433.3,84.9 433.8,88.4 434.4,91.6 435.0,94.3 435.6,96.7 436.2,98.9 436.8,101.1 437.4,103.4 438.0,105.6 438.6,107.7 439.2,109.8 439.8,112.2 440.3,115.1 440.8,119.3 441.2,124.6 441.6,129.9 442.0,134.0 442.4,135.8 442.7,135.0 443.0,132.4 443.3,128.5 443.6,123.6 443.9,118.1 444.2,111.4 444.5,103.1 444.9,94.4 445.3,86.3 445.6,79.8 446.0,75.1 446.3,71.4 446.7,68.7 447.0,66.6 447.4,65.1 447.7,64.2 448.1,64.1 448.4,64.5 448.8,65.4 449.2,66.5 449.6,68.1 450.0,70.1 450.5,72.4 451.0,74.7 451.5,76.9 452.1,78.9 452.8,80.9 453.6,82.9 454.3,84.5 455.0,85.7 455.8,86.4 456.5,86.6 457.2,86.5 457.9,86.2 458.6,85.7 459.3,84.8 460.0,83.6 460.7,82.2 461.4,80.9 462.1,79.8 462.9,78.9 463.7,78.0 464.5,77.3 465.3,76.8 465.9,76.9 466.5,77.3 466.9,78.2 467.3,79.3 467.6,80.9 468.0,82.7 468.4,85.1 468.8,87.9 469.1,90.9 469.4,94.2 469.8,97.5 470.1,100.8 470.4,104.4 470.7,108.0 471.0,111.7 471.2,115.1 471.5,118.7 471.7,122.4 472.0,125.9 472.2,129.0 472.4,131.3 472.7,133.1 472.9,134.4 473.1,135.1 473.4,135.1 473.6,134.3 473.9,132.4 474.2,129.5 474.5,126.0 474.8,122.1 475.1,118.1 475.4,113.8 475.7,109.1 476.1,104.1 476.4,99.2 476.8,94.5 477.3,90.1 477.7,85.8 478.2,81.6 478.7,77.6 479.2,73.9 479.8,70.4 480.3,67.2 480.9,64.2 481.5,61.5 482.1,59.2 482.7,57.3 483.4,55.6 484.0,54.4 484.5,53.6 485.1,53.3 485.6,53.7 486.0,54.8 486.5,56.3 486.9,57.8 487.4,59.2 488.0,60.5 488.6,62.0 489.2,63.4 489.8,64.5 490.4,65.1 491.0,65.2 491.6,65.0 492.2,64.4 492.8,63.4 493.3,62.1 493.9,60.3 494.5,57.9 495.1,55.3 495.7,52.7 496.3,50.3 496.8,48.1 497.3,45.8 497.7,43.6 498.2,42.1 498.6,41.5 499.1,42.0 499.7,43.3 500.2,45.3 500.7,47.7 501.3,50.3 501.9,53.5 502.5,57.2 503.0,61.2 503.6,64.9 504.2,68.0 504.8,70.5 505.4,72.8 505.9,74.6 506.5,76.0 507.2,76.9 507.9,77.1 508.7,76.7 509.5,75.9 510.3,74.9 511.0,73.9 511.7,72.8 512.4,71.3 513.1,69.9 513.8,68.7 514.5,68.0 515.3,68.0 515.9,68.4 516.6,69.2 517.4,70.0 518.1,71.0 518.8,72.0 519.6,73.3 520.3,74.7 521.1,75.9 521.9,76.9 522.8,77.5 523.6,78.0 524.5,78.3 525.4,78.4 526.3,78.3 527.2,78.0 528.1,77.5 529.0,76.8 529.9,76.0 530.7,75.4 531.6,74.8 532.3,74.2 533.1,73.6 533.8,73.0 534.6,72.4" fill="none" stroke="#626262" stroke-width="0.6" stroke-dasharray="2.2,1"/>
<polyline points="390.2,72.4 391.3,72.5 392.3,72.6 393.3,72.8 394.3,72.7 395.3,72.4 396.2,71.8 397.1,71.0 397.9,70.0 398.8,69.0 399.7,68.0 400.6,67.1 401.4,66.1 402.3,65.2 403.2,64.3 404.1,63.6 405.0,63.0 405.9,62.6 406.7,62.3 407.6,62.1 408.5,62.1 409.4,62.5 410.3,63.3 411.2,64.1 412.1,64.8 412.9,65.1 413.7,65.1 414.5,64.9 415.3,64.4 416.1,63.6 416.8,62.1 417.4,59.5 418.0,55.9 418.6,52.1 419.1,48.9 419.7,47.4 420.3,47.8 420.9,49.5 421.5,52.1 422.1,55.0 422.6,57.7 423.2,60.6 423.8,63.9 424.4,67.3 425.0,70.3 425.6,72.4 426.2,73.6 426.8,74.0 427.4,74.0 427.9,73.8 428.5,73.9 429.1,74.3 429.7,74.6 430.3,75.0 430.9,75.3 431.5,75.4 432.1,75.2 432.7,74.7 433.3,74.2 433.9,73.9 434.4,73.9 434.9,74.3 435.3,75.0 435.6,75.9 436.0,77.0 436.5,78.3 437.0,80.0 437.6,82.0 438.2,84.1 438.8,86.4 439.4,88.6 440.0,90.9 440.7,93.4 441.3,95.8 441.9,98.2 442.4,100.4 442.8,102.7 443.3,105.2 443.6,107.3 444.0,108.9 444.4,109.3 444.9,108.2 445.4,106.0 445.8,103.2 446.3,100.2 446.8,97.5 447.3,94.9 447.7,92.2 448.2,89.6 448.6,87.3 449.2,85.7 449.7,84.9 450.3,84.8 450.9,85.0 451.5,85.4 452.1,85.7 452.8,86.0 453.5,86.4 454.2,86.8 454.9,87.1 455.6,87.2 456.3,86.9 457.0,86.3 457.7,85.6 458.4,84.9 459.2,84.2 459.9,83.6 460.7,83.0 461.5,82.5 462.2,81.9 463.0,81.3 463.8,80.6 464.6,79.8 465.4,79.1 466.1,78.5 466.8,78.3 467.5,78.4 468.1,78.6 468.7,79.1 469.2,79.9 469.8,81.3 470.3,83.2 470.8,85.6 471.2,88.4 471.7,91.4 472.1,94.5 472.6,98.2 473.1,102.6 473.5,106.8 474.0,110.3 474.5,112.2 475.0,112.3 475.4,111.1 475.9,109.0 476.4,106.3 476.8,103.4 477.3,99.9 477.8,95.8 478.2,91.2 478.7,86.8 479.2,82.7 479.7,79.0 480.3,75.4 480.9,72.0 481.5,69.0 482.1,66.5 482.8,64.8 483.5,63.6 484.2,62.9 485.0,62.4 485.7,62.1 486.4,62.1 487.1,62.4 487.8,62.9 488.5,63.4 489.2,63.6 489.9,63.6 490.6,63.4 491.3,63.2 492.0,62.8 492.8,62.1 493.5,61.2 494.2,60.1 494.9,58.8 495.6,57.5 496.3,56.2 497.0,54.8 497.7,53.2 498.4,51.6 499.2,50.6 499.8,50.3 500.4,51.1 501.0,52.5 501.6,54.5 502.2,56.8 502.8,59.2 503.4,61.9 503.9,65.1 504.5,68.5 505.1,71.5 505.7,73.9 506.3,75.6 506.9,76.8 507.5,77.7 508.1,78.2 508.7,78.3 509.2,78.0 509.8,77.2 510.4,76.1 511.0,74.9 511.6,73.9 512.2,73.0 512.8,72.1 513.3,71.2 513.9,70.3 514.5,69.5 515.2,68.7 515.9,67.9 516.6,67.1 517.3,66.6 518.1,66.5 518.8,67.0 519.6,67.8 520.4,68.8 521.1,70.0 521.9,71.0 522.7,71.9 523.5,72.9 524.2,73.8 525.0,74.7 525.7,75.4 526.4,76.0 527.1,76.4 527.7,76.8 528.5,76.9 529.3,76.9 530.2,76.4 531.3,75.7 532.4,74.8 533.5,73.9 534.6,73.0" fill="none" stroke="#747474" stroke-width="0.6"/>
<polyline points="390.2,72.4 391.3,72.3 392.3,72.3 393.3,72.3 394.3,71.9 395.3,71.0 396.2,69.1 397.1,66.5 398.0,63.7 398.9,61.1 399.7,59.2 400.4,58.0 401.1,57.3 401.8,56.9 402.5,56.8 403.2,56.8 404.0,57.2 404.7,58.0 405.5,59.0 406.3,59.9 407.0,60.7 407.8,61.3 408.6,61.9 409.4,62.4 410.1,62.7 410.9,62.7 411.6,62.5 412.3,62.0 413.0,61.2 413.7,60.3 414.4,59.2 415.1,57.8 415.9,56.1 416.6,54.2 417.3,52.3 417.9,50.3 418.4,48.2 418.8,45.7 419.1,43.3 419.4,41.3 419.7,40.0 420.1,39.6 420.5,39.8 420.9,40.4 421.3,41.5 421.8,43.0 422.2,44.9 422.6,47.5 423.0,50.3 423.4,53.3 423.8,56.2 424.3,59.1 424.7,62.1 425.2,65.1 425.7,68.1 426.2,71.0 426.7,73.8 427.1,76.6 427.6,79.4 428.1,81.9 428.5,84.2 429.0,86.3 429.4,88.3 429.8,90.1 430.2,91.4 430.6,92.2 431.0,92.3 431.4,91.9 431.8,91.1 432.2,90.0 432.7,88.6 433.1,86.9 433.6,84.7 434.1,82.4 434.6,80.1 435.0,78.3 435.4,76.9 435.8,75.7 436.1,74.8 436.4,74.1 436.8,73.9 437.1,74.1 437.5,74.6 437.8,75.5 438.2,76.7 438.6,78.3 438.9,80.3 439.3,82.8 439.6,85.5 440.0,88.5 440.3,91.6 440.7,95.0 441.0,98.9 441.4,102.8 441.7,106.4 442.1,109.3 442.4,111.5 442.8,113.5 443.1,114.8 443.5,115.5 443.9,115.1 444.3,113.5 444.8,110.8 445.3,107.4 445.8,103.8 446.2,100.4 446.6,97.1 447.1,93.6 447.5,90.0 447.9,86.8 448.3,84.2 448.7,82.3 449.1,80.7 449.5,79.6 449.9,78.8 450.3,78.3 450.8,78.2 451.2,78.5 451.7,79.1 452.2,79.7 452.7,80.4 453.2,81.1 453.8,82.0 454.4,83.0 455.0,83.8 455.6,84.2 456.3,84.3 457.0,84.2 457.7,83.8 458.4,83.3 459.2,82.7 459.9,82.1 460.7,81.2 461.5,80.2 462.2,79.3 463.0,78.3 463.8,77.3 464.6,76.2 465.4,75.1 466.1,74.3 466.8,73.9 467.5,73.8 468.1,74.0 468.7,74.5 469.3,75.4 469.8,76.9 470.2,79.0 470.7,81.8 471.1,84.9 471.4,88.3 471.8,91.6 472.3,95.1 472.7,99.0 473.1,102.9 473.5,106.4 473.9,109.3 474.3,111.5 474.6,113.5 475.0,114.8 475.3,115.5 475.7,115.1 476.1,113.6 476.5,111.0 476.9,107.7 477.3,104.1 477.7,100.4 478.1,96.6 478.5,92.4 478.9,88.0 479.4,83.7 479.8,79.8 480.2,76.1 480.7,72.5 481.2,69.1 481.7,66.1 482.1,63.6 482.6,61.6 483.1,60.0 483.6,58.8 484.0,58.1 484.5,57.7 485.0,57.9 485.4,58.7 485.9,59.9 486.4,61.1 486.9,62.1 487.3,63.2 487.8,64.5 488.3,65.6 488.7,66.4 489.2,66.5 489.7,65.9 490.2,64.5 490.6,62.8 491.1,60.9 491.6,59.2 492.0,57.6 492.5,55.9 492.9,54.2 493.4,52.3 493.9,50.3 494.5,48.0 495.1,45.4 495.7,42.8 496.3,40.4 496.9,38.6 497.3,37.2 497.8,36.2 498.2,35.5 498.5,35.3 498.9,35.6 499.4,36.5 499.8,38.0 500.2,39.8 500.6,42.0 501.0,44.5 501.4,47.2 501.7,50.3 502.0,53.7 502.4,57.2 502.8,60.7 503.2,64.3 503.7,68.1 504.2,71.9 504.7,75.4 505.1,78.3 505.6,80.7 506.0,82.7 506.4,84.3 506.8,85.3 507.2,85.7 507.6,85.2 508.0,83.8 508.4,82.0 508.8,80.0 509.2,78.3 509.7,76.8 510.1,75.3 510.6,73.8 511.1,72.3 511.6,71.0 512.2,69.6 512.7,68.3 513.3,67.0 513.9,65.9 514.5,65.1 515.1,64.4 515.7,63.9 516.3,63.6 516.9,63.4 517.5,63.6 518.1,64.1 518.7,64.9 519.3,65.9 519.8,66.9 520.4,68.0 521.0,69.2 521.6,70.4 522.2,71.7 522.8,72.9 523.4,73.9 523.9,74.8 524.5,75.5 525.0,76.1 525.6,76.6 526.3,76.9 527.1,76.9 528.0,76.7 529.0,76.3 529.9,75.8 530.7,75.4 531.6,74.9 532.3,74.3 533.1,73.7 533.8,73.1 534.6,72.4" fill="none" stroke="#505050" stroke-width="0.7"/>
<rect x="384.3" y="19.2" width="157.1" height="134.0" fill="none" stroke="#9a9a9a" stroke-width="1"/>
<line x1="382.7" x2="384.3" y1="21.0" y2="21.0" stroke="#9a9a9a" stroke-width="0.8"/>
<line x1="382.7" x2="384.3" y1="46.9" y2="46.9" stroke="#9a9a9a" stroke-width="0.8"/>
<text x="380.1" y="46.9" transform="rotate(-90 380.1 46.9)" text-anchor="middle" class="t">5000</text>
<line x1="382.7" x2="384.3" y1="72.7" y2="72.7" stroke="#9a9a9a" stroke-width="0.8"/>
<text x="380.1" y="72.7" transform="rotate(-90 380.1 72.7)" text-anchor="middle" class="t">0</text>
<line x1="382.7" x2="384.3" y1="98.5" y2="98.5" stroke="#9a9a9a" stroke-width="0.8"/>
<text x="380.1" y="98.5" transform="rotate(-90 380.1 98.5)" text-anchor="middle" class="t">-5000</text>
<line x1="382.7" x2="384.3" y1="124.4" y2="124.4" stroke="#9a9a9a" stroke-width="0.8"/>
<line x1="382.7" x2="384.3" y1="150.2" y2="150.2" stroke="#9a9a9a" stroke-width="0.8"/>
<text x="380.1" y="148.4" transform="rotate(-90 380.1 148.4)" text-anchor="middle" class="t">15000</text>
<text x="372.9" y="86.2" transform="rotate(-90 372.9 86.2)" text-anchor="middle" class="t">Acceleration (deg/%/%)</text>
<text x="462.9" y="17.0" text-anchor="middle" class="tt">2<tspan dy="-3.6" font-size="6.6">nd</tspan><tspan dy="3.6"> derivative</tspan></text>
<text x="280.5" y="176.6" text-anchor="middle" class="cap"><tspan font-weight="normal" font-size="12">(</tspan><tspan dx="0.2">a</tspan><tspan font-weight="normal" font-size="12" dx="0.2">)</tspan></text>
<line x1="32.3" x2="189.5" y1="300.7" y2="300.7" stroke="#8a8a8a" stroke-width="0.7" stroke-dasharray="1,0.9"/>
<polyline points="38.2,317.3 39.6,317.7 40.9,318.2 42.3,318.7 43.6,319.1 44.7,319.4 45.7,319.5 46.5,319.7 47.3,319.7 48.2,319.6 49.1,319.4 50.3,319.0 51.5,318.5 52.7,317.8 54.0,316.9 55.3,315.8 56.6,314.5 57.9,312.9 59.2,311.2 60.5,309.2 61.8,307.0 63.0,304.5 64.2,301.8 65.4,298.8 66.5,295.7 67.7,292.2 68.9,288.5 70.0,284.5 71.2,280.3 72.4,275.9 73.6,271.6 74.7,267.3 75.9,262.9 77.1,258.4 78.3,253.9 79.5,249.5 80.7,244.9 81.9,240.2 83.1,235.5 84.3,231.2 85.3,227.4 86.3,224.3 87.1,221.6 87.9,219.3 88.6,217.3 89.4,215.6 90.1,214.2 90.8,213.1 91.5,212.2 92.3,211.6 93.3,211.2 94.5,211.0 96.0,211.0 97.5,211.3 99.1,211.6 100.6,212.1 102.1,212.6 103.7,213.2 105.2,213.9 106.6,214.7 108.0,215.6 109.3,216.6 110.5,217.7 111.6,218.8 112.7,220.1 113.9,221.5 115.1,223.0 116.2,224.5 117.4,226.2 118.6,228.1 119.8,230.3 121.0,232.9 122.2,235.7 123.4,238.7 124.5,241.8 125.7,245.1 126.7,248.4 127.8,251.9 128.8,255.6 129.7,259.2 130.7,262.8 131.6,266.4 132.4,270.1 133.2,273.7 134.0,277.2 134.8,280.5 135.5,283.4 136.3,286.1 136.9,288.7 137.6,291.2 138.3,293.7 139.0,296.2 139.7,298.8 140.4,301.2 141.1,303.5 141.9,305.5 142.7,307.3 143.5,308.8 144.4,310.1 145.3,311.3 146.3,312.3 147.4,313.1 148.6,313.7 149.8,314.1 151.1,314.4 152.2,314.6 153.1,314.8 154.1,314.8 154.9,314.7 155.8,314.5 156.6,314.3 157.3,314.1 158.0,313.9 158.7,313.6 159.5,313.3 160.4,312.9 161.5,312.4 162.8,311.8 164.1,311.3 165.5,310.7 166.9,310.2 168.2,309.8 169.6,309.5 171.0,309.2 172.4,308.9 173.7,308.7 174.8,308.6 175.9,308.6 177.0,308.6 178.0,308.6 178.9,308.7 179.9,308.9 180.8,309.2 181.6,309.6 182.5,309.9 183.4,310.2" fill="none" stroke="#ababab" stroke-width="0.6"/>
<polyline points="38.2,315.8 39.6,316.3 40.9,316.9 42.3,317.4 43.6,317.8 44.7,318.2 45.7,318.5 46.5,318.7 47.3,318.9 48.1,318.9 49.1,318.8 50.4,318.4 51.7,317.9 53.2,317.3 54.7,316.4 56.3,315.2 57.9,313.8 59.7,312.0 61.5,310.1 63.2,307.9 64.7,305.5 66.1,303.0 67.3,300.3 68.4,297.3 69.5,294.2 70.6,290.8 71.8,287.0 73.0,283.0 74.2,278.8 75.3,274.4 76.5,270.1 77.7,265.8 78.9,261.4 80.0,256.9 81.2,252.5 82.4,248.0 83.6,243.4 84.9,238.7 86.1,234.0 87.3,229.7 88.3,225.9 89.1,222.8 89.7,220.1 90.2,217.8 90.7,215.8 91.2,214.1 91.6,212.8 91.9,211.8 92.2,211.2 92.6,210.7 93.3,210.3 94.2,210.0 95.4,209.9 96.6,209.9 97.9,210.1 99.2,210.3 100.4,210.6 101.5,210.9 102.7,211.3 103.9,211.9 105.1,212.7 106.2,213.6 107.4,214.6 108.6,215.8 109.8,217.1 111.0,218.6 112.1,220.1 113.3,221.7 114.5,223.4 115.7,225.3 116.8,227.4 118.0,229.7 119.2,232.2 120.4,234.8 121.5,237.7 122.7,240.7 123.9,243.9 125.2,247.4 126.4,251.1 127.5,254.7 128.6,258.3 129.6,262.0 130.5,265.7 131.4,269.4 132.2,272.9 133.0,276.0 133.8,278.8 134.5,281.2 135.2,283.4 135.9,285.6 136.6,287.8 137.3,290.2 138.0,292.6 138.7,295.0 139.4,297.3 140.1,299.6 140.8,301.9 141.4,304.1 142.1,306.3 142.7,308.2 143.3,309.9 143.9,311.3 144.5,312.4 145.1,313.3 145.7,314.2 146.3,314.9 146.8,315.7 147.2,316.3 147.7,316.8 148.2,317.3 148.9,317.9 149.8,318.5 150.7,319.0 151.7,319.6 152.8,320.2 153.9,320.8 155.2,321.6 156.5,322.4 157.9,323.2 159.2,323.9 160.4,324.4 161.4,324.7 162.3,324.8 163.1,324.8 163.9,324.8 164.8,324.7 165.8,324.5 166.9,324.3 167.9,324.0 169.0,323.6 170.1,323.2 171.2,322.7 172.3,322.2 173.4,321.7 174.5,321.1 175.7,320.5 177.0,320.0 178.2,319.5 179.6,318.9 180.9,318.4 182.2,317.9" fill="none" stroke="#767676" stroke-width="0.6" stroke-dasharray="1,0.9"/>
<polyline points="38.2,314.3 39.6,314.7 40.9,315.0 42.3,315.3 43.6,315.6 44.7,315.8 45.7,316.1 46.5,316.3 47.3,316.5 48.2,316.6 49.1,316.4 50.3,316.1 51.5,315.5 52.7,314.9 54.0,314.0 55.3,312.9 56.6,311.5 57.9,310.0 59.2,308.2 60.5,306.3 61.8,304.0 63.0,301.6 64.2,298.8 65.4,295.9 66.5,292.7 67.7,289.3 68.9,285.5 70.1,281.3 71.3,277.0 72.5,272.7 73.6,268.7 74.5,265.0 75.4,261.5 76.3,258.1 77.1,254.7 78.0,251.0 78.9,246.9 79.8,242.7 80.7,238.3 81.6,234.1 82.4,230.3 83.1,226.9 83.7,223.7 84.2,220.7 84.8,218.0 85.3,215.6 85.9,213.6 86.4,211.9 86.9,210.5 87.5,209.3 88.1,208.2 88.8,207.3 89.5,206.6 90.3,206.0 91.1,205.6 92.0,205.3 93.0,205.1 94.1,205.0 95.3,205.0 96.5,205.1 97.7,205.3 98.9,205.4 100.0,205.6 101.2,205.9 102.4,206.3 103.6,206.8 104.8,207.4 105.9,208.2 107.1,209.1 108.3,210.1 109.5,211.2 110.7,212.4 111.8,213.8 113.0,215.3 114.2,216.8 115.4,218.6 116.5,220.3 117.7,222.2 118.9,224.2 120.1,226.4 121.3,228.9 122.4,231.7 123.6,234.8 124.8,238.1 126.0,241.6 127.1,245.1 128.2,248.8 129.3,252.7 130.4,256.7 131.4,260.6 132.4,264.2 133.5,267.8 134.6,271.3 135.6,274.6 136.6,277.6 137.4,280.2 138.2,282.1 138.8,283.4 139.3,284.5 139.9,285.5 140.4,286.6 140.9,287.9 141.4,289.2 141.9,290.5 142.5,291.8 143.0,293.1 143.6,294.5 144.3,296.0 145.0,297.5 145.6,298.9 146.3,300.2 146.9,301.4 147.6,302.5 148.2,303.5 148.8,304.4 149.5,305.2 150.2,305.9 150.8,306.5 151.5,307.1 152.2,307.6 153.0,308.2 154.0,308.7 155.1,309.3 156.2,309.9 157.3,310.5 158.3,311.1 159.3,311.7 160.2,312.4 161.0,313.1 161.9,313.8 162.8,314.3 163.6,314.9 164.5,315.4 165.4,315.9 166.4,316.3 167.5,316.7 168.7,317.0 170.0,317.2 171.3,317.3 172.8,317.5 174.2,317.6 175.8,317.7 177.3,317.8 179.0,318.0 180.6,318.1 182.2,318.2" fill="none" stroke="#626262" stroke-width="0.6" stroke-dasharray="2.2,1"/>
<polyline points="38.2,311.4 39.6,311.7 40.9,312.0 42.3,312.3 43.6,312.6 44.7,312.9 45.7,313.1 46.5,313.4 47.3,313.6 48.2,313.6 49.1,313.5 50.3,313.1 51.5,312.6 52.7,311.9 54.0,311.0 55.3,309.9 56.6,308.6 57.9,307.1 59.2,305.3 60.5,303.3 61.8,301.1 63.0,298.6 64.2,295.9 65.4,292.9 66.5,289.8 67.7,286.3 68.9,282.6 70.0,278.7 71.2,274.5 72.4,270.1 73.6,265.7 74.7,261.1 75.9,256.4 77.1,251.5 78.3,246.7 79.5,242.1 80.7,237.7 81.9,233.3 83.1,229.1 84.3,225.1 85.3,221.5 86.3,218.2 87.1,215.3 87.9,212.6 88.6,210.2 89.4,208.2 90.2,206.6 90.9,205.5 91.6,204.6 92.4,203.9 93.3,203.2 94.4,202.7 95.6,202.3 96.9,202.0 98.1,201.9 99.2,201.8 100.0,201.6 100.7,201.5 101.4,201.5 102.1,201.7 103.0,202.0 104.1,202.6 105.4,203.3 106.8,204.2 108.1,205.3 109.5,206.5 110.8,207.8 112.1,209.2 113.4,210.8 114.7,212.6 116.0,214.4 117.1,216.5 118.3,218.9 119.3,221.3 120.3,223.7 121.3,225.9 122.0,227.9 122.7,229.6 123.3,231.3 123.9,233.1 124.5,235.1 125.1,237.2 125.8,239.3 126.4,241.6 127.0,244.0 127.7,246.6 128.4,249.3 129.2,252.1 130.0,255.1 130.7,258.2 131.6,261.3 132.4,264.6 133.3,268.1 134.2,271.6 135.1,275.0 136.0,278.1 136.7,281.0 137.4,283.6 138.1,286.2 138.8,288.5 139.5,290.8 140.2,292.8 140.9,294.8 141.6,296.5 142.3,298.1 143.0,299.6 143.7,300.9 144.4,302.1 145.1,303.1 145.8,304.0 146.6,304.9 147.3,305.7 148.1,306.4 148.9,307.0 149.8,307.6 150.7,308.2 151.7,308.8 152.7,309.3 153.8,309.9 154.9,310.5 156.0,311.1 157.1,311.8 158.3,312.4 159.6,313.1 160.7,313.8 161.9,314.3 162.9,314.9 163.9,315.3 164.8,315.7 165.8,316.1 166.9,316.4 168.1,316.6 169.4,316.8 170.7,316.9 172.2,316.9 173.7,317.0 175.2,317.0 176.9,317.0 178.7,317.0 180.5,317.0 182.2,317.0" fill="none" stroke="#747474" stroke-width="0.6"/>
<polyline points="38.2,309.9 39.6,310.4 40.9,310.9 42.3,311.4 43.6,311.9 44.7,312.3 45.7,312.7 46.5,313.2 47.3,313.5 48.2,313.8 49.1,313.8 50.3,313.6 51.5,313.2 52.7,312.6 54.0,311.9 55.3,310.8 56.6,309.5 57.9,307.9 59.2,306.0 60.5,304.0 61.8,301.7 63.0,299.2 64.2,296.5 65.4,293.5 66.5,290.4 67.7,286.9 68.9,283.2 70.0,279.3 71.2,275.1 72.4,270.8 73.6,266.3 74.7,261.7 75.9,256.8 77.1,251.8 78.3,246.9 79.5,242.1 80.7,237.4 81.9,232.6 83.1,228.0 84.3,223.8 85.3,220.0 86.3,216.9 87.1,214.1 87.9,211.8 88.6,209.9 89.4,208.2 90.2,207.0 91.0,206.3 91.7,205.8 92.5,205.5 93.3,205.3 94.1,205.2 94.8,205.4 95.6,205.6 96.4,205.8 97.1,205.9 97.8,205.7 98.6,205.4 99.2,205.0 99.9,204.7 100.6,204.4 101.4,204.2 102.1,204.0 102.8,203.9 103.5,203.9 104.2,204.1 104.8,204.5 105.4,205.1 106.0,205.9 106.5,206.7 107.1,207.6 107.7,208.6 108.3,209.7 109.0,210.9 109.6,212.2 110.4,213.5 111.2,215.0 112.1,216.5 113.0,218.1 113.9,219.7 114.8,221.2 115.6,222.5 116.4,223.8 117.2,225.0 118.1,226.2 118.9,227.7 119.8,229.3 120.7,230.9 121.6,232.7 122.4,234.6 123.3,236.8 124.2,239.3 125.0,242.1 125.8,245.0 126.6,248.0 127.4,251.0 128.2,254.0 129.0,257.1 129.8,260.3 130.5,263.4 131.3,266.3 132.0,269.1 132.6,271.7 133.3,274.3 133.9,276.7 134.5,279.0 135.1,281.1 135.6,283.1 136.1,284.9 136.6,286.7 137.1,288.4 137.6,290.0 138.1,291.6 138.6,293.0 139.1,294.4 139.5,295.8 139.9,297.1 140.4,298.4 140.8,299.6 141.2,300.8 141.6,302.0 142.0,303.1 142.4,304.3 142.8,305.4 143.2,306.5 143.6,307.6 144.0,308.6 144.4,309.5 144.8,310.4 145.3,311.2 145.7,312.0 146.1,312.7 146.5,313.2 147.0,313.8 147.5,314.2 148.0,314.6 148.7,315.0 149.3,315.2 150.1,315.4 150.9,315.6 151.9,315.8 153.0,316.1 154.3,316.4 155.6,316.7 157.0,317.0 158.3,317.3 159.6,317.6 160.8,318.0 162.1,318.3 163.4,318.6 164.8,318.8 166.4,318.8 168.2,318.7 170.0,318.5 171.9,318.3 173.7,318.2 175.4,318.0 177.1,317.8 178.8,317.7 180.5,317.5 182.2,317.3" fill="none" stroke="#505050" stroke-width="0.7"/>
<rect x="32.3" y="196.1" width="157.2" height="133.9" fill="none" stroke="#9a9a9a" stroke-width="1"/>
<line x1="30.7" x2="32.3" y1="214.8" y2="214.8" stroke="#9a9a9a" stroke-width="0.8"/>
<text x="28.1" y="214.8" transform="rotate(-90 28.1 214.8)" text-anchor="middle" class="t">60</text>
<line x1="30.7" x2="32.3" y1="243.5" y2="243.5" stroke="#9a9a9a" stroke-width="0.8"/>
<text x="28.1" y="243.5" transform="rotate(-90 28.1 243.5)" text-anchor="middle" class="t">40</text>
<line x1="30.7" x2="32.3" y1="272.1" y2="272.1" stroke="#9a9a9a" stroke-width="0.8"/>
<text x="28.1" y="272.1" transform="rotate(-90 28.1 272.1)" text-anchor="middle" class="t">20</text>
<line x1="30.7" x2="32.3" y1="300.7" y2="300.7" stroke="#9a9a9a" stroke-width="0.8"/>
<text x="28.1" y="300.7" transform="rotate(-90 28.1 300.7)" text-anchor="middle" class="t">0</text>
<line x1="30.7" x2="32.3" y1="329.3" y2="329.3" stroke="#9a9a9a" stroke-width="0.8"/>
<text x="28.1" y="329.3" transform="rotate(-90 28.1 329.3)" text-anchor="middle" class="t">-20</text>
<text x="20.9" y="263.1" transform="rotate(-90 20.9 263.1)" text-anchor="middle" class="t">Angle (deg)</text>
<text x="110.9" y="193.9" text-anchor="middle" class="tt">cubic,λ=1x10<tspan dy="-3.6" font-size="6.6">-5</tspan></text>
<line x1="208.4" x2="365.4" y1="268.6" y2="268.6" stroke="#8a8a8a" stroke-width="0.7" stroke-dasharray="1,0.9"/>
<polyline points="213.4,273.0 214.6,273.0 215.8,273.1 217.0,273.1 218.2,273.1 219.3,273.0 220.2,272.8 221.1,272.6 221.9,272.3 222.7,271.8 223.7,270.9 224.8,269.8 225.9,268.3 227.1,266.6 228.4,264.8 229.6,262.7 230.8,260.4 232.0,257.9 233.2,255.2 234.4,252.4 235.5,249.4 236.5,246.2 237.4,242.7 238.3,239.2 239.1,235.9 239.9,233.2 240.6,231.2 241.2,229.7 241.7,228.5 242.3,227.6 242.8,226.8 243.4,226.2 244.0,225.9 244.6,225.7 245.2,225.5 245.8,225.0 246.4,224.1 246.9,223.1 247.5,221.9 248.1,220.8 248.7,220.0 249.3,219.4 249.8,219.1 250.4,218.8 251.0,218.7 251.7,218.5 252.4,218.3 253.1,218.1 253.9,218.0 254.7,218.1 255.5,218.5 256.2,219.2 256.9,220.2 257.6,221.3 258.3,222.8 259.0,224.4 259.7,226.3 260.4,228.5 261.1,231.0 261.8,233.5 262.6,236.2 263.3,239.0 264.0,242.0 264.8,245.1 265.6,248.1 266.4,250.9 267.2,253.5 268.1,256.1 269.0,258.5 269.9,260.7 270.8,262.7 271.7,264.3 272.6,265.7 273.5,266.9 274.3,268.0 275.2,269.2 276.1,270.3 277.0,271.4 277.9,272.5 278.8,273.5 279.6,274.5 280.5,275.4 281.4,276.3 282.3,277.2 283.2,278.0 284.1,278.9 284.9,279.8 285.8,280.7 286.7,281.5 287.6,282.4 288.5,283.3 289.4,284.2 290.2,285.0 291.1,285.9 292.0,286.8 292.9,287.7 293.8,288.7 294.7,289.7 295.5,290.8 296.4,292.0 297.3,293.6 298.2,295.7 299.1,298.3 300.1,300.9 300.9,303.4 301.7,305.4 302.4,307.0 302.9,308.3 303.5,309.4 304.0,309.9 304.7,309.8 305.5,308.9 306.3,307.2 307.3,305.2 308.2,303.0 309.1,301.0 310.0,299.2 310.9,297.3 311.7,295.5 312.6,293.7 313.5,292.1 314.4,290.8 315.3,289.5 316.2,288.4 317.0,287.3 317.9,286.3 318.8,285.3 319.7,284.4 320.6,283.5 321.5,282.7 322.3,281.8 323.2,281.0 324.1,280.1 325.0,279.3 325.9,278.4 326.8,277.4 327.6,276.3 328.5,275.2 329.3,274.0 330.2,272.7 331.2,271.5 332.3,270.3 333.4,269.0 334.6,267.8 335.9,266.6 337.1,265.6 338.3,264.8 339.4,264.1 340.6,263.6 341.8,263.1 343.0,262.7 344.1,262.4 345.3,262.1 346.5,261.9 347.7,261.9 348.9,262.1 350.1,262.5 351.3,263.1 352.5,263.9 353.7,264.8 354.7,265.6 355.7,266.6 356.6,267.6 357.5,268.7 358.3,269.9 359.2,270.9" fill="none" stroke="#ababab" stroke-width="0.6"/>
<polyline points="213.4,272.1 214.6,272.2 215.8,272.2 217.0,272.3 218.2,272.2 219.3,272.1 220.2,271.9 221.1,271.7 221.9,271.4 222.7,270.9 223.7,270.1 224.8,268.9 225.9,267.5 227.1,265.8 228.4,264.0 229.6,262.1 230.7,260.1 231.9,257.9 233.1,255.6 234.3,253.2 235.5,250.9 236.7,248.6 237.9,246.3 239.1,244.0 240.3,241.6 241.3,239.1 242.3,236.6 243.3,234.1 244.2,231.5 245.0,228.7 245.8,225.9 246.4,222.7 247.0,219.3 247.6,215.8 248.1,212.5 248.7,209.7 249.3,207.2 249.9,205.0 250.5,203.1 251.1,201.6 251.7,200.8 252.2,200.7 252.8,201.1 253.4,202.0 254.0,203.4 254.6,205.3 255.3,207.7 256.1,210.8 256.9,214.3 257.7,217.9 258.4,221.5 259.1,224.9 259.7,228.4 260.2,232.0 260.8,235.6 261.4,239.1 262.0,242.8 262.5,246.6 263.1,250.3 263.7,253.7 264.3,256.8 265.0,259.5 265.7,261.9 266.3,263.9 267.1,265.7 267.9,267.1 268.7,268.0 269.6,268.5 270.5,268.7 271.4,268.9 272.3,269.2 273.2,269.6 274.0,269.9 274.9,270.3 275.8,270.8 276.7,271.5 277.6,272.5 278.5,273.7 279.3,275.0 280.2,276.3 281.1,277.4 282.0,278.4 282.9,279.3 283.8,280.1 284.6,281.0 285.5,281.8 286.4,282.7 287.3,283.5 288.2,284.4 289.1,285.3 289.9,286.3 290.9,287.3 291.8,288.4 292.7,289.5 293.6,290.8 294.4,292.1 295.0,293.7 295.6,295.3 296.2,297.1 296.7,299.0 297.3,301.0 297.9,303.2 298.5,305.6 299.0,308.0 299.6,310.5 300.3,312.8 300.9,315.1 301.7,317.4 302.4,319.7 303.1,321.6 303.8,323.1 304.4,324.1 305.0,324.7 305.5,324.9 306.1,324.9 306.7,324.5 307.4,323.9 308.2,322.9 308.9,321.7 309.7,320.2 310.6,318.7 311.4,316.9 312.3,314.9 313.2,312.7 314.1,310.5 315.0,308.3 315.9,306.3 316.8,304.3 317.6,302.3 318.5,300.2 319.4,298.0 320.3,295.7 321.2,293.2 322.1,290.7 322.9,288.4 323.8,286.3 324.7,284.5 325.6,282.9 326.5,281.4 327.4,280.1 328.2,278.9 329.1,277.8 329.9,276.9 330.8,276.1 331.7,275.3 332.7,274.5 333.7,273.6 334.9,272.7 336.1,271.8 337.3,270.9 338.5,270.1 339.7,269.1 340.9,268.1 342.1,267.2 343.3,266.3 344.4,265.6 345.6,265.1 346.8,264.6 348.0,264.3 349.2,264.1 350.3,264.2 351.6,264.5 352.8,265.1 354.1,265.8 355.2,266.5 356.2,267.1 357.0,267.6 357.6,268.0 358.1,268.4 358.6,268.8 359.2,269.2" fill="none" stroke="#767676" stroke-width="0.6" stroke-dasharray="1,0.9"/>
<polyline points="213.4,270.1 214.6,270.1 215.8,270.2 217.0,270.3 218.2,270.4 219.3,270.4 220.2,270.3 221.1,270.4 221.9,270.3 222.7,270.0 223.7,269.2 224.8,267.8 225.9,266.0 227.1,264.0 228.4,261.8 229.6,259.7 230.7,257.7 231.9,255.5 233.1,253.4 234.3,251.3 235.5,249.4 236.6,247.8 237.8,246.4 239.0,245.1 240.2,243.7 241.3,242.1 242.5,240.2 243.8,238.2 245.0,236.0 246.2,233.9 247.2,231.8 248.2,229.7 249.1,227.5 250.0,225.4 250.8,223.3 251.7,221.5 252.5,219.6 253.2,217.7 254.0,216.0 254.7,214.8 255.5,214.1 256.2,214.1 256.9,214.7 257.7,215.6 258.4,217.0 259.0,218.5 259.7,220.3 260.3,222.6 260.9,225.0 261.4,227.6 262.0,230.3 262.5,233.1 262.9,236.0 263.4,239.1 263.8,242.1 264.3,245.0 264.9,247.8 265.4,250.6 266.0,253.4 266.6,255.9 267.3,258.3 267.9,260.4 268.6,262.4 269.3,264.1 270.0,265.7 270.8,267.1 271.6,268.2 272.5,269.0 273.4,269.7 274.3,270.3 275.2,270.9 276.1,271.6 277.0,272.3 277.9,272.9 278.8,273.6 279.6,274.5 280.5,275.5 281.4,276.7 282.3,277.9 283.2,279.1 284.1,280.4 284.9,281.6 285.8,282.9 286.7,284.1 287.6,285.3 288.5,286.3 289.4,287.0 290.3,287.5 291.2,288.0 292.1,288.5 292.9,289.2 293.6,290.1 294.2,291.0 294.7,292.1 295.3,293.4 295.8,295.1 296.4,297.3 297.0,300.0 297.6,302.9 298.2,305.8 298.8,308.3 299.4,310.7 300.0,313.0 300.6,315.1 301.1,317.0 301.7,318.7 302.3,320.0 302.9,321.1 303.5,322.0 304.1,322.7 304.7,323.1 305.2,323.3 305.8,323.3 306.3,323.0 306.9,322.5 307.6,321.6 308.4,320.4 309.3,318.7 310.2,316.9 311.1,314.8 312.0,312.8 312.9,310.6 313.8,308.3 314.7,305.8 315.6,303.4 316.5,301.0 317.3,298.6 318.2,296.2 319.1,293.8 320.0,291.5 320.9,289.2 321.8,287.0 322.6,284.7 323.5,282.5 324.4,280.6 325.3,278.9 326.2,277.6 327.0,276.6 327.8,275.9 328.7,275.2 329.7,274.5 330.8,273.8 332.0,273.2 333.2,272.7 334.4,272.1 335.6,271.5 336.8,270.8 338.0,270.1 339.1,269.4 340.3,268.6 341.5,268.0 342.7,267.4 343.8,266.9 345.0,266.5 346.2,266.0 347.4,265.6 348.6,265.2 349.7,264.8 350.9,264.5 352.1,264.3 353.3,264.2 354.5,264.3 355.6,264.5 356.8,264.9 358.0,265.3 359.2,265.6" fill="none" stroke="#626262" stroke-width="0.6" stroke-dasharray="2.2,1"/>
<polyline points="213.4,271.5 214.6,271.6 215.8,271.6 217.0,271.7 218.2,271.7 219.3,271.5 220.2,271.3 221.1,271.0 221.9,270.5 222.7,269.9 223.7,269.2 224.8,268.2 225.9,267.0 227.1,265.7 228.4,264.2 229.6,262.7 230.7,261.1 231.9,259.3 233.1,257.5 234.3,255.7 235.5,253.9 236.6,252.1 237.8,250.4 239.0,248.7 240.2,246.9 241.3,245.0 242.5,243.1 243.8,241.1 245.0,239.1 246.2,237.0 247.2,234.7 248.2,232.2 249.2,229.4 250.1,226.6 250.9,223.9 251.7,221.5 252.4,219.3 253.0,217.3 253.6,215.5 254.1,213.9 254.6,212.6 255.1,211.5 255.4,210.7 255.8,210.0 256.2,209.7 256.7,209.7 257.2,210.0 257.7,210.6 258.3,211.5 258.9,212.7 259.6,214.1 260.3,215.7 261.0,217.6 261.8,219.7 262.6,222.0 263.4,224.4 264.3,227.1 265.2,230.0 266.1,233.0 267.0,236.1 267.9,239.1 268.7,242.1 269.6,245.2 270.5,248.2 271.4,251.1 272.3,253.9 273.2,256.5 274.0,259.0 274.9,261.4 275.8,263.6 276.7,265.6 277.6,267.4 278.5,268.9 279.3,270.3 280.2,271.6 281.1,273.0 282.0,274.5 282.9,276.0 283.8,277.5 284.6,279.0 285.5,280.4 286.4,281.7 287.3,283.0 288.2,284.2 289.1,285.3 289.9,286.3 290.9,287.0 291.8,287.5 292.7,288.0 293.6,288.5 294.4,289.2 295.0,290.1 295.6,291.1 296.2,292.2 296.7,293.5 297.3,295.1 297.9,297.1 298.5,299.5 299.1,302.0 299.7,304.5 300.3,306.9 300.8,309.1 301.4,311.3 302.0,313.4 302.6,315.4 303.2,317.2 303.8,318.8 304.4,320.2 304.9,321.5 305.5,322.4 306.1,323.1 306.8,323.3 307.5,323.2 308.2,322.9 308.9,322.3 309.7,321.6 310.4,320.7 311.2,319.6 311.9,318.4 312.7,317.1 313.5,315.7 314.4,314.4 315.2,313.2 316.1,311.8 317.0,310.2 317.9,308.3 318.8,306.1 319.7,303.5 320.6,300.8 321.5,297.9 322.3,295.1 323.2,292.1 324.1,288.8 325.0,285.6 325.9,282.7 326.8,280.4 327.6,278.7 328.5,277.6 329.4,276.8 330.3,276.3 331.2,275.9 332.1,276.0 333.0,276.4 333.8,277.0 334.7,277.4 335.6,277.4 336.5,276.9 337.4,276.0 338.3,275.0 339.1,273.9 340.0,273.0 340.9,272.2 341.7,271.3 342.6,270.5 343.5,269.8 344.4,269.2 345.5,268.6 346.7,268.2 347.9,267.8 349.1,267.4 350.3,267.1 351.6,266.8 352.8,266.5 354.1,266.3 355.2,266.2 356.2,266.2 357.0,266.4 357.6,266.7 358.1,267.2 358.6,267.6 359.2,268.0" fill="none" stroke="#747474" stroke-width="0.6"/>
<polyline points="213.4,270.9 214.6,271.0 215.8,271.0 217.0,271.1 218.2,271.1 219.3,270.9 220.2,270.8 221.1,270.7 221.9,270.4 222.7,269.9 223.7,269.2 224.8,268.0 225.9,266.5 227.1,264.9 228.4,263.1 229.6,261.2 230.7,259.3 231.9,257.3 233.1,255.1 234.3,253.0 235.5,250.9 236.7,248.8 237.9,246.8 239.1,244.7 240.3,242.7 241.3,240.6 242.3,238.6 243.2,236.6 244.1,234.6 244.9,232.5 245.8,230.3 246.6,227.7 247.4,224.9 248.2,222.0 249.0,219.3 249.6,217.0 250.1,215.1 250.5,213.4 250.9,212.0 251.2,210.9 251.7,210.3 252.2,210.1 252.7,210.5 253.3,211.2 253.9,212.1 254.6,213.2 255.4,214.5 256.3,216.0 257.2,217.8 258.1,219.6 259.0,221.5 259.9,223.4 260.8,225.4 261.7,227.4 262.6,229.6 263.4,231.8 264.3,234.0 265.2,236.3 266.1,238.7 267.0,241.1 267.9,243.5 268.7,246.2 269.6,248.9 270.5,251.6 271.4,254.3 272.3,256.8 273.2,259.1 274.0,261.2 274.9,263.2 275.8,265.2 276.7,267.1 277.6,269.0 278.5,270.8 279.3,272.6 280.2,274.3 281.1,275.9 282.0,277.5 282.9,279.1 283.8,280.5 284.6,282.0 285.5,283.3 286.4,284.6 287.4,285.8 288.3,287.0 289.2,288.1 289.9,289.2 290.6,290.1 291.2,290.9 291.8,291.6 292.3,292.5 292.9,293.6 293.5,295.1 294.1,296.8 294.7,298.7 295.2,300.6 295.8,302.5 296.4,304.2 297.0,306.1 297.6,307.9 298.2,309.6 298.8,311.3 299.4,312.9 300.0,314.6 300.6,316.1 301.1,317.5 301.7,318.7 302.3,319.6 302.9,320.4 303.5,321.1 304.1,321.5 304.7,321.6 305.3,321.4 305.9,321.0 306.4,320.3 307.0,319.5 307.6,318.7 308.2,317.7 308.7,316.7 309.3,315.5 309.9,314.2 310.6,312.8 311.4,311.2 312.2,309.4 313.1,307.5 314.1,305.6 315.0,303.9 315.9,302.5 316.8,301.2 317.6,299.9 318.5,298.4 319.4,296.6 320.3,294.2 321.2,291.4 322.2,288.5 323.0,285.7 323.8,283.3 324.5,281.4 325.0,279.7 325.6,278.2 326.1,276.9 326.8,275.9 327.6,275.3 328.4,274.9 329.3,274.8 330.3,274.7 331.2,274.5 332.1,274.2 333.0,274.0 333.8,273.7 334.7,273.4 335.6,273.0 336.5,272.5 337.4,271.9 338.3,271.3 339.1,270.7 340.0,270.1 340.9,269.4 341.7,268.8 342.6,268.2 343.5,267.6 344.4,267.1 345.5,266.7 346.8,266.2 348.0,265.9 349.2,265.7 350.3,265.6 351.3,265.9 352.2,266.4 353.1,267.0 353.9,267.5 354.7,268.0 355.6,268.3 356.5,268.6 357.4,268.8 358.3,269.0 359.2,269.2" fill="none" stroke="#505050" stroke-width="0.7"/>
<rect x="208.4" y="196.1" width="157.0" height="133.9" fill="none" stroke="#9a9a9a" stroke-width="1"/>
<line x1="206.8" x2="208.4" y1="217.0" y2="217.0" stroke="#9a9a9a" stroke-width="0.8"/>
<text x="204.2" y="217.0" transform="rotate(-90 204.2 217.0)" text-anchor="middle" class="t">400</text>
<line x1="206.8" x2="208.4" y1="242.8" y2="242.8" stroke="#9a9a9a" stroke-width="0.8"/>
<text x="204.2" y="242.8" transform="rotate(-90 204.2 242.8)" text-anchor="middle" class="t">200</text>
<line x1="206.8" x2="208.4" y1="268.6" y2="268.6" stroke="#9a9a9a" stroke-width="0.8"/>
<text x="204.2" y="268.6" transform="rotate(-90 204.2 268.6)" text-anchor="middle" class="t">0</text>
<line x1="206.8" x2="208.4" y1="294.4" y2="294.4" stroke="#9a9a9a" stroke-width="0.8"/>
<text x="204.2" y="294.4" transform="rotate(-90 204.2 294.4)" text-anchor="middle" class="t">-200</text>
<line x1="206.8" x2="208.4" y1="320.2" y2="320.2" stroke="#9a9a9a" stroke-width="0.8"/>
<text x="204.2" y="320.2" transform="rotate(-90 204.2 320.2)" text-anchor="middle" class="t">-400</text>
<text x="197.0" y="263.1" transform="rotate(-90 197.0 263.1)" text-anchor="middle" class="t">Velocity (deg/%)</text>
<text x="286.9" y="193.9" text-anchor="middle" class="tt">1<tspan dy="-3.6" font-size="6.6">st</tspan><tspan dy="3.6"> derivative</tspan></text>
<line x1="384.3" x2="541.4" y1="251.0" y2="251.0" stroke="#8a8a8a" stroke-width="0.7" stroke-dasharray="1,0.9"/>
<polyline points="390.2,251.5 391.3,250.6 392.3,249.8 393.3,248.9 394.3,247.8 395.3,246.5 396.2,244.8 397.1,242.8 397.9,240.7 398.8,238.4 399.7,236.2 400.6,233.9 401.4,231.4 402.3,229.0 403.2,226.6 404.1,224.4 405.0,222.4 405.9,220.4 406.8,218.5 407.7,216.9 408.5,215.6 409.2,214.5 409.8,213.6 410.3,213.0 410.9,212.6 411.5,212.6 412.0,212.8 412.6,213.3 413.2,214.1 413.8,215.3 414.4,217.0 415.0,219.6 415.6,222.9 416.2,226.5 416.8,230.1 417.3,233.2 417.9,236.1 418.5,239.0 419.1,241.6 419.7,243.7 420.3,245.0 420.9,245.5 421.5,245.3 422.1,244.6 422.6,243.5 423.2,242.1 423.8,239.8 424.4,236.6 425.0,233.3 425.6,230.9 426.2,230.3 426.8,231.9 427.4,235.2 427.9,239.5 428.5,244.0 429.1,248.0 429.7,251.5 430.3,255.2 430.9,258.8 431.5,262.3 432.1,265.6 432.7,268.9 433.3,272.0 433.8,275.0 434.4,277.8 435.0,280.4 435.6,282.6 436.2,284.5 436.8,286.2 437.4,287.7 438.0,289.2 438.5,290.8 439.1,292.5 439.7,293.9 440.3,294.9 440.9,295.1 441.6,294.3 442.3,292.8 443.0,290.7 443.8,288.4 444.4,286.3 445.1,284.0 445.7,281.6 446.2,279.1 446.8,276.7 447.4,274.5 448.0,272.4 448.5,270.4 449.1,268.6 449.7,267.0 450.3,265.6 451.0,264.6 451.8,263.9 452.6,263.4 453.4,263.0 454.2,262.7 454.9,262.4 455.7,262.1 456.4,261.9 457.2,261.9 458.0,262.1 458.8,262.6 459.6,263.3 460.5,264.2 461.3,265.1 462.1,265.9 462.9,266.6 463.7,267.1 464.5,267.7 465.2,268.3 465.9,269.2 466.6,270.3 467.3,271.5 467.9,272.9 468.6,274.3 469.2,275.9 469.8,277.7 470.4,279.7 471.0,281.8 471.6,283.8 472.1,285.7 472.7,287.5 473.2,289.5 473.8,291.2 474.3,292.7 474.8,293.6 475.2,294.1 475.6,294.2 476.0,293.9 476.4,293.1 476.8,291.6 477.3,289.3 477.7,286.3 478.2,282.7 478.7,278.7 479.2,274.5 479.8,269.6 480.3,264.1 480.9,258.3 481.5,252.8 482.1,248.0 482.7,243.7 483.3,239.8 483.9,236.3 484.5,233.5 485.1,231.8 485.8,231.3 486.5,232.0 487.2,233.4 487.9,235.0 488.6,236.2 489.4,237.2 490.1,238.4 490.9,239.5 491.7,240.3 492.5,240.6 493.2,240.4 494.0,239.7 494.8,238.7 495.5,237.5 496.3,236.2 497.0,234.6 497.7,232.7 498.5,230.7 499.2,228.8 499.8,227.3 500.4,226.1 501.0,225.0 501.6,224.2 502.2,224.0 502.8,224.4 503.3,225.9 503.9,228.3 504.5,231.2 505.1,234.0 505.7,236.2 506.4,237.9 507.1,239.4 507.8,240.6 508.5,241.6 509.2,242.1 510.0,242.0 510.8,241.2 511.5,240.3 512.3,239.5 513.1,239.1 513.8,239.4 514.6,240.0 515.4,240.7 516.2,241.5 516.9,242.1 517.6,242.4 518.3,242.7 519.0,242.9 519.7,243.2 520.4,243.5 521.3,244.0 522.1,244.6 523.0,245.2 524.0,245.9 524.9,246.5 525.7,247.1 526.6,247.7 527.4,248.4 528.3,248.9 529.3,249.4 530.3,249.8 531.3,250.1 532.4,250.4 533.5,250.6 534.6,250.9" fill="none" stroke="#ababab" stroke-width="0.6"/>
<polyline points="390.2,252.4 390.9,252.8 391.6,253.4 392.3,253.9 393.0,254.1 393.8,253.9 394.6,253.0 395.5,251.7 396.4,250.1 397.3,248.3 398.2,246.5 399.1,244.6 400.0,242.5 400.9,240.3 401.7,238.2 402.6,236.2 403.5,234.1 404.4,232.0 405.3,230.0 406.2,228.3 407.0,227.3 407.9,227.1 408.8,227.5 409.7,228.2 410.6,229.2 411.5,230.3 412.4,231.9 413.3,234.1 414.2,236.2 415.1,237.6 415.9,237.7 416.6,236.0 417.2,233.1 417.8,229.4 418.3,225.4 418.8,221.5 419.3,217.1 419.8,212.1 420.3,207.2 420.7,203.1 421.2,200.8 421.6,200.5 422.0,201.7 422.4,203.9 422.8,206.7 423.2,209.7 423.7,213.0 424.2,216.9 424.7,221.3 425.1,225.8 425.6,230.3 426.0,234.9 426.4,239.6 426.8,244.5 427.2,249.3 427.7,253.9 428.1,258.2 428.5,262.3 428.9,266.4 429.3,270.4 429.7,274.5 430.2,278.6 430.6,282.9 431.1,287.1 431.6,291.2 432.1,295.1 432.5,298.9 433.0,302.7 433.5,306.4 434.0,309.7 434.4,312.8 434.9,315.5 435.4,318.1 435.8,320.4 436.3,322.1 436.8,323.1 437.3,323.4 437.8,323.1 438.4,322.3 438.9,320.8 439.4,318.7 439.9,315.6 440.4,311.7 440.9,307.3 441.3,302.6 441.8,298.0 442.2,293.4 442.6,288.5 443.0,283.6 443.4,278.9 443.9,274.5 444.3,270.4 444.8,266.3 445.3,262.6 445.8,259.4 446.2,256.8 446.6,254.8 447.0,253.4 447.4,252.5 447.8,252.1 448.3,252.4 448.8,253.6 449.4,255.7 450.0,258.2 450.6,260.7 451.2,262.7 451.8,264.3 452.4,265.9 452.9,267.2 453.5,268.1 454.2,268.6 454.9,268.4 455.6,267.7 456.4,266.6 457.2,265.4 458.0,264.2 458.7,262.8 459.5,261.2 460.2,259.6 460.9,258.0 461.5,256.8 462.2,255.7 462.7,254.7 463.3,254.0 463.9,253.6 464.5,253.9 465.1,254.7 465.7,256.1 466.3,258.0 466.9,260.2 467.4,262.7 467.9,265.7 468.4,269.1 468.9,272.9 469.3,276.7 469.8,280.4 470.2,284.0 470.7,287.7 471.1,291.4 471.5,294.9 471.8,298.0 472.2,301.1 472.4,304.3 472.7,307.1 473.0,309.1 473.3,309.8 473.7,309.2 474.2,307.5 474.7,304.9 475.2,301.7 475.7,298.0 476.1,293.7 476.5,288.5 476.9,282.8 477.3,277.1 477.7,271.5 478.1,266.1 478.5,260.6 478.9,255.2 479.4,249.9 479.8,245.0 480.2,240.2 480.7,235.5 481.2,231.1 481.7,227.3 482.1,224.4 482.6,222.4 483.1,221.2 483.5,220.7 484.0,220.8 484.5,221.5 485.1,222.9 485.6,225.3 486.2,228.1 486.9,230.9 487.4,233.2 488.0,235.3 488.6,237.3 489.2,239.1 489.8,240.3 490.4,240.6 491.0,239.8 491.6,238.2 492.2,236.0 492.8,233.3 493.3,230.3 493.9,226.6 494.6,222.1 495.2,217.4 495.8,213.0 496.3,209.7 496.7,207.3 497.2,205.5 497.5,204.4 497.9,203.8 498.3,203.8 498.8,204.4 499.3,205.7 499.7,207.5 500.2,209.9 500.7,212.6 501.2,216.0 501.8,220.2 502.3,224.6 502.8,229.1 503.4,233.2 503.8,237.1 504.3,241.1 504.7,244.8 505.2,248.2 505.7,250.9 506.3,253.1 506.8,254.8 507.4,256.1 508.0,256.8 508.7,256.8 509.3,256.0 510.0,254.3 510.7,252.2 511.5,250.0 512.2,248.0 512.9,246.0 513.7,243.9 514.5,241.8 515.3,240.1 516.0,239.1 516.8,238.9 517.6,239.2 518.3,239.9 519.1,240.9 519.8,242.1 520.6,243.5 521.2,245.3 521.9,247.2 522.6,249.1 523.4,250.9 524.2,252.6 525.1,254.2 526.0,255.8 526.9,257.2 527.8,258.3 528.7,259.1 529.7,259.6 530.6,260.0 531.5,260.0 532.2,259.7 532.8,259.0 533.3,257.9 533.7,256.6 534.1,255.2 534.6,253.9" fill="none" stroke="#767676" stroke-width="0.6" stroke-dasharray="1,0.9"/>
<polyline points="390.2,250.9 391.3,250.7 392.3,250.6 393.3,250.5 394.3,250.1 395.3,249.4 396.2,248.3 397.1,246.9 397.9,245.3 398.8,243.6 399.7,242.1 400.6,240.6 401.4,239.0 402.3,237.4 403.2,236.0 404.1,234.7 405.0,233.5 405.9,232.4 406.7,231.4 407.6,230.7 408.5,230.3 409.4,230.5 410.3,231.2 411.2,232.1 412.0,232.9 412.9,233.2 413.8,233.2 414.7,232.9 415.6,232.4 416.5,231.5 417.3,230.3 418.2,228.3 419.1,225.7 420.0,222.9 420.9,220.3 421.8,218.5 422.6,217.2 423.4,216.2 424.2,215.6 424.9,215.8 425.6,217.0 426.2,219.5 426.8,223.0 427.4,227.2 428.0,231.7 428.5,236.2 429.1,240.5 429.7,245.0 430.3,249.7 430.9,254.6 431.5,259.7 432.1,265.4 432.7,271.5 433.3,277.8 433.8,283.8 434.4,289.2 435.0,294.0 435.6,298.5 436.2,302.6 436.8,306.4 437.4,309.8 438.0,313.1 438.6,316.3 439.1,319.0 439.7,320.9 440.3,321.6 440.9,320.9 441.5,319.2 442.1,316.5 442.7,313.3 443.3,309.8 443.8,305.8 444.3,301.1 444.7,296.0 445.2,291.0 445.6,286.3 446.1,281.7 446.5,277.2 447.0,272.8 447.5,268.9 448.0,265.6 448.5,263.1 449.1,261.2 449.7,259.7 450.3,258.8 450.9,258.3 451.5,258.4 452.2,259.3 452.8,260.5 453.5,261.7 454.2,262.7 454.9,263.5 455.6,264.5 456.4,265.3 457.2,265.7 458.0,265.6 458.8,264.8 459.6,263.4 460.5,261.6 461.3,259.8 462.1,258.3 462.9,256.7 463.7,255.0 464.4,253.5 465.2,252.5 465.9,252.4 466.7,253.3 467.5,255.1 468.3,257.5 469.1,260.1 469.8,262.7 470.4,265.4 471.0,268.3 471.6,271.4 472.1,274.5 472.7,277.4 473.3,280.2 473.9,283.1 474.5,285.8 475.1,288.3 475.7,290.7 476.2,293.0 476.8,295.5 477.3,297.6 477.8,299.0 478.3,299.2 478.7,298.2 479.1,296.2 479.4,293.4 479.7,290.1 480.1,286.3 480.5,281.7 480.9,276.3 481.3,270.5 481.7,264.8 482.1,259.7 482.5,255.3 482.9,251.1 483.2,247.3 483.6,243.7 483.9,240.6 484.2,237.7 484.6,235.1 484.9,232.9 485.3,231.3 485.7,230.3 486.2,230.2 486.8,230.8 487.4,231.9 488.0,233.3 488.6,234.7 489.2,236.5 489.8,238.8 490.4,241.2 491.0,242.9 491.6,243.5 492.2,242.8 492.8,241.0 493.3,238.6 493.9,235.9 494.5,233.2 495.1,230.5 495.7,227.4 496.3,224.2 496.9,221.1 497.5,218.5 498.0,216.1 498.4,213.7 498.9,211.7 499.3,210.2 499.8,209.7 500.4,210.1 501.0,211.4 501.6,213.3 502.2,215.7 502.8,218.5 503.3,222.0 503.9,226.3 504.5,231.0 505.1,235.4 505.7,239.1 506.4,242.3 507.1,245.3 507.8,247.9 508.5,249.8 509.2,250.9 510.0,250.9 510.8,250.0 511.5,248.4 512.3,246.7 513.1,245.0 513.8,243.2 514.6,241.1 515.4,238.9 516.2,237.1 516.9,236.2 517.6,236.1 518.3,236.7 519.0,237.8 519.7,239.1 520.4,240.6 521.3,242.3 522.1,244.4 523.0,246.6 524.0,248.8 524.9,250.9 525.7,253.0 526.6,255.2 527.4,257.2 528.3,258.9 529.3,259.7 530.3,259.7 531.3,258.9 532.4,257.7 533.5,256.4 534.6,255.3" fill="none" stroke="#626262" stroke-width="0.6" stroke-dasharray="2.2,1"/>
<polyline points="390.2,251.5 391.3,250.9 392.3,250.3 393.3,249.7 394.3,248.9 395.3,248.0 396.2,246.7 397.1,245.3 397.9,243.7 398.8,242.1 399.7,240.6 400.6,239.1 401.4,237.4 402.3,235.9 403.2,234.4 404.1,233.2 405.0,232.3 405.9,231.5 406.7,230.9 407.6,230.5 408.5,230.3 409.4,230.3 410.3,230.4 411.2,230.8 412.1,231.2 412.9,231.8 413.7,232.6 414.5,233.9 415.3,235.1 416.0,236.0 416.8,236.2 417.5,235.4 418.2,233.9 418.9,232.1 419.6,230.3 420.3,228.8 420.9,227.5 421.5,226.1 422.1,224.9 422.7,224.2 423.2,224.4 423.8,225.6 424.4,227.6 425.0,230.2 425.6,233.1 426.2,236.2 426.8,239.6 427.4,243.6 427.9,247.7 428.5,251.8 429.1,255.3 429.7,258.5 430.3,261.4 430.9,264.1 431.5,266.5 432.1,268.6 432.7,270.2 433.2,271.5 433.8,272.5 434.4,273.4 435.0,274.5 435.7,275.6 436.4,276.7 437.2,277.8 437.9,279.0 438.6,280.4 439.2,282.0 439.8,284.0 440.4,285.9 441.0,287.8 441.5,289.2 442.0,290.4 442.5,291.4 442.9,292.1 443.4,292.4 443.9,292.1 444.4,291.2 445.0,289.5 445.6,287.5 446.2,285.4 446.8,283.3 447.5,281.3 448.2,279.1 448.9,276.9 449.6,274.8 450.3,273.0 451.1,271.5 451.8,270.2 452.6,269.0 453.4,268.0 454.2,267.1 455.0,266.4 455.9,265.9 456.8,265.5 457.7,265.0 458.6,264.2 459.5,263.0 460.4,261.5 461.3,259.9 462.2,258.3 463.0,256.8 463.7,255.3 464.3,253.7 464.8,252.2 465.4,251.2 465.9,250.9 466.5,251.4 467.1,252.5 467.7,254.2 468.3,256.1 468.9,258.3 469.5,260.7 470.1,263.6 470.7,266.7 471.2,269.8 471.8,273.0 472.4,276.5 473.0,280.6 473.6,284.5 474.2,287.5 474.8,289.2 475.4,289.2 476.0,288.0 476.6,285.9 477.1,283.3 477.7,280.4 478.3,276.9 478.9,272.8 479.5,268.2 480.1,263.8 480.7,259.7 481.2,256.1 481.8,252.6 482.4,249.3 483.0,246.2 483.6,243.5 484.3,241.2 485.1,239.1 485.9,237.4 486.7,235.9 487.4,234.7 488.2,234.0 488.8,233.7 489.5,233.6 490.2,233.5 491.0,233.2 491.8,232.8 492.7,232.3 493.6,231.8 494.5,231.1 495.4,230.3 496.3,229.1 497.2,227.4 498.2,225.8 499.0,224.7 499.8,224.4 500.5,225.2 501.1,226.7 501.7,228.7 502.2,231.0 502.8,233.2 503.4,235.7 503.9,238.5 504.5,241.4 505.1,244.1 505.7,246.5 506.3,248.6 506.8,250.6 507.4,252.3 508.0,253.4 508.7,253.9 509.5,253.3 510.3,251.8 511.3,249.9 512.2,248.0 513.1,246.5 513.9,245.3 514.7,244.0 515.4,243.0 516.2,242.3 516.9,242.1 517.6,242.6 518.3,243.6 519.0,245.0 519.7,246.5 520.4,248.0 521.3,249.4 522.1,251.0 523.0,252.6 524.0,254.1 524.9,255.3 525.7,256.3 526.6,257.2 527.4,257.9 528.3,258.3 529.3,258.3 530.3,257.7 531.3,256.6 532.4,255.2 533.5,253.7 534.6,252.4" fill="none" stroke="#747474" stroke-width="0.6"/>
<polyline points="390.2,251.5 390.9,251.2 391.6,251.1 392.3,250.9 393.0,250.4 393.8,249.4 394.6,247.9 395.5,245.8 396.4,243.5 397.3,241.2 398.2,239.1 399.1,237.1 400.0,235.1 400.9,233.2 401.7,231.5 402.6,230.3 403.5,229.6 404.4,229.2 405.3,229.1 406.2,229.3 407.0,229.7 407.9,230.4 408.8,231.6 409.7,232.9 410.6,234.0 411.5,234.7 412.4,235.0 413.3,235.2 414.2,235.1 415.1,234.5 415.9,233.2 416.6,231.0 417.2,227.9 417.8,224.4 418.3,221.1 418.8,218.5 419.3,216.5 419.8,214.8 420.2,213.5 420.7,212.7 421.2,212.6 421.7,213.3 422.2,214.7 422.7,216.6 423.3,218.9 423.8,221.5 424.4,224.4 425.0,227.9 425.6,231.6 426.2,235.5 426.8,239.1 427.3,242.7 427.8,246.4 428.2,250.1 428.7,253.5 429.1,256.8 429.6,260.0 430.0,263.2 430.5,266.1 431.0,268.5 431.5,270.1 432.0,270.4 432.6,269.6 433.3,268.5 433.9,267.7 434.4,268.0 434.9,269.6 435.4,271.9 435.9,274.8 436.3,277.7 436.8,280.4 437.3,282.8 437.8,285.3 438.3,287.7 438.9,290.0 439.4,292.1 440.0,294.3 440.6,296.5 441.3,298.5 441.8,300.1 442.4,301.0 442.8,301.1 443.3,300.7 443.6,299.8 444.0,298.4 444.4,296.6 444.9,294.0 445.3,290.7 445.8,287.1 446.3,283.5 446.8,280.4 447.4,277.6 447.9,275.1 448.5,272.7 449.1,270.5 449.7,268.6 450.3,266.8 450.9,265.2 451.5,263.9 452.1,263.0 452.7,262.7 453.4,263.3 454.1,264.8 454.8,266.6 455.5,268.1 456.2,268.6 456.9,268.0 457.4,266.6 458.0,264.8 458.6,262.9 459.2,261.2 459.8,259.7 460.4,258.1 460.9,256.6 461.5,255.1 462.1,253.9 462.7,252.6 463.3,251.4 463.9,250.3 464.5,249.6 465.1,249.4 465.7,249.8 466.2,250.7 466.8,251.9 467.4,253.5 468.0,255.3 468.6,257.4 469.2,259.9 469.8,262.6 470.4,265.5 471.0,268.6 471.6,272.0 472.2,275.9 472.8,279.8 473.4,283.4 473.9,286.3 474.3,288.5 474.7,290.5 475.0,291.8 475.3,292.5 475.7,292.1 476.0,290.7 476.4,288.3 476.8,285.1 477.3,281.4 477.7,277.4 478.3,272.7 478.8,267.1 479.5,261.2 480.1,255.6 480.7,250.9 481.3,247.1 481.9,243.7 482.4,240.9 483.0,238.4 483.6,236.2 484.2,234.3 484.8,232.6 485.4,231.4 486.0,230.6 486.6,230.3 487.2,230.8 487.8,231.9 488.4,233.5 489.0,235.0 489.5,236.2 490.0,237.2 490.4,238.3 490.8,239.2 491.2,239.5 491.6,239.1 492.0,237.8 492.5,235.7 492.9,233.1 493.4,230.2 493.9,227.3 494.5,224.2 495.1,220.6 495.7,217.0 496.3,213.7 496.9,211.1 497.4,209.3 497.9,207.9 498.3,207.0 498.8,206.6 499.2,206.7 499.7,207.5 500.1,208.9 500.5,210.8 500.9,213.0 501.3,215.6 501.7,218.5 502.1,222.0 502.5,225.7 502.9,229.6 503.4,233.2 503.8,237.0 504.3,240.9 504.8,244.7 505.2,248.1 505.7,250.9 506.2,253.0 506.6,254.7 507.0,255.9 507.5,256.6 508.1,256.8 508.7,256.4 509.4,255.5 510.1,254.2 510.9,252.6 511.6,250.9 512.3,249.0 513.0,246.7 513.8,244.3 514.5,242.2 515.1,240.6 515.8,239.6 516.4,239.0 516.9,238.7 517.5,238.7 518.1,239.1 518.7,240.1 519.3,241.5 519.8,243.2 520.4,245.0 521.0,246.5 521.6,247.8 522.2,249.1 522.7,250.3 523.3,251.4 524.0,252.4 524.7,253.2 525.5,254.0 526.3,254.6 527.1,255.1 527.8,255.3 528.4,255.3 529.0,255.1 529.5,254.8 530.1,254.3 530.7,253.9 531.5,253.4 532.2,252.8 533.0,252.2 533.8,251.5 534.6,250.9" fill="none" stroke="#505050" stroke-width="0.7"/>
<rect x="384.3" y="196.1" width="157.1" height="133.9" fill="none" stroke="#9a9a9a" stroke-width="1"/>
<line x1="382.7" x2="384.3" y1="215.1" y2="215.1" stroke="#9a9a9a" stroke-width="0.8"/>
<text x="380.1" y="215.1" transform="rotate(-90 380.1 215.1)" text-anchor="middle" class="t">4000</text>
<line x1="382.7" x2="384.3" y1="233.1" y2="233.1" stroke="#9a9a9a" stroke-width="0.8"/>
<line x1="382.7" x2="384.3" y1="251.0" y2="251.0" stroke="#9a9a9a" stroke-width="0.8"/>
<text x="380.1" y="251.0" transform="rotate(-90 380.1 251.0)" text-anchor="middle" class="t">0</text>
<line x1="382.7" x2="384.3" y1="268.9" y2="268.9" stroke="#9a9a9a" stroke-width="0.8"/>
<line x1="382.7" x2="384.3" y1="286.9" y2="286.9" stroke="#9a9a9a" stroke-width="0.8"/>
<text x="380.1" y="286.9" transform="rotate(-90 380.1 286.9)" text-anchor="middle" class="t">-4000</text>
<line x1="382.7" x2="384.3" y1="304.9" y2="304.9" stroke="#9a9a9a" stroke-width="0.8"/>
<line x1="382.7" x2="384.3" y1="322.8" y2="322.8" stroke="#9a9a9a" stroke-width="0.8"/>
<text x="380.1" y="322.8" transform="rotate(-90 380.1 322.8)" text-anchor="middle" class="t">-8000</text>
<text x="372.9" y="263.1" transform="rotate(-90 372.9 263.1)" text-anchor="middle" class="t">Acceleration (deg/%/%)</text>
<text x="462.9" y="193.9" text-anchor="middle" class="tt">2<tspan dy="-3.6" font-size="6.6">nd</tspan><tspan dy="3.6"> derivative</tspan></text>
<text x="280.3" y="353.2" text-anchor="middle" class="cap"><tspan font-weight="normal" font-size="12">(</tspan><tspan dx="0.2">b</tspan><tspan font-weight="normal" font-size="12" dx="0.2">)</tspan></text>
<line x1="32.1" x2="188.4" y1="476.8" y2="476.8" stroke="#8a8a8a" stroke-width="0.7" stroke-dasharray="1,0.9"/>
<polyline points="38.0,493.3 39.3,493.7 40.7,494.2 42.0,494.7 43.3,495.1 44.4,495.4 45.4,495.5 46.3,495.7 47.1,495.7 47.9,495.6 48.8,495.4 50.0,495.0 51.2,494.5 52.4,493.8 53.7,492.9 55.0,491.8 56.3,490.5 57.6,489.0 58.9,487.2 60.2,485.3 61.4,483.0 62.6,480.6 63.8,477.9 65.0,475.0 66.1,471.8 67.3,468.4 68.4,464.7 69.6,460.7 70.8,456.5 72.0,452.2 73.1,447.9 74.3,443.6 75.5,439.2 76.6,434.8 77.8,430.3 79.0,425.9 80.2,421.3 81.4,416.6 82.6,412.0 83.8,407.6 84.8,403.9 85.8,400.8 86.6,398.1 87.4,395.9 88.1,393.9 88.9,392.2 89.6,390.7 90.3,389.6 91.0,388.8 91.7,388.2 92.7,387.8 94.0,387.6 95.4,387.6 97.0,387.9 98.5,388.2 100.1,388.7 101.5,389.2 103.1,389.8 104.6,390.5 106.0,391.3 107.4,392.2 108.6,393.2 109.8,394.2 111.0,395.4 112.1,396.6 113.2,398.0 114.4,399.5 115.6,401.1 116.7,402.8 117.9,404.7 119.1,406.8 120.3,409.3 121.5,412.1 122.7,415.1 123.8,418.3 124.9,421.5 126.0,424.8 127.0,428.3 128.0,431.9 129.0,435.5 129.9,439.1 130.8,442.7 131.6,446.3 132.5,449.9 133.2,453.4 134.0,456.7 134.7,459.6 135.5,462.3 136.1,464.9 136.8,467.4 137.5,469.9 138.2,472.4 138.9,474.9 139.6,477.3 140.3,479.6 141.0,481.6 141.8,483.3 142.7,484.8 143.5,486.2 144.4,487.3 145.4,488.3 146.5,489.1 147.7,489.7 149.0,490.1 150.2,490.4 151.3,490.7 152.3,490.8 153.2,490.8 154.0,490.7 154.8,490.5 155.7,490.4 156.4,490.2 157.1,489.9 157.8,489.6 158.6,489.3 159.5,488.9 160.6,488.4 161.8,487.9 163.2,487.3 164.6,486.7 165.9,486.3 167.3,485.9 168.7,485.5 170.0,485.2 171.4,485.0 172.6,484.8 173.8,484.7 174.9,484.6 175.9,484.6 176.9,484.7 177.9,484.8 178.8,485.0 179.7,485.3 180.6,485.6 181.4,486.0 182.3,486.3" fill="none" stroke="#ababab" stroke-width="0.6"/>
<polyline points="38.0,491.8 39.3,492.3 40.7,492.9 42.0,493.4 43.3,493.8 44.4,494.2 45.4,494.5 46.2,494.7 47.0,494.9 47.8,494.9 48.8,494.8 50.1,494.4 51.4,494.0 52.9,493.3 54.4,492.4 56.0,491.3 57.6,489.8 59.3,488.1 61.1,486.1 62.8,483.9 64.4,481.6 65.7,479.1 66.9,476.4 68.0,473.4 69.1,470.3 70.2,466.9 71.4,463.2 72.5,459.2 73.7,455.0 74.9,450.7 76.1,446.4 77.2,442.1 78.4,437.7 79.6,433.3 80.7,428.8 81.9,424.4 83.1,419.9 84.4,415.1 85.6,410.5 86.8,406.2 87.8,402.4 88.5,399.3 89.2,396.6 89.7,394.3 90.2,392.4 90.6,390.7 91.0,389.4 91.4,388.4 91.7,387.8 92.1,387.3 92.7,386.9 93.7,386.6 94.8,386.5 96.1,386.6 97.4,386.7 98.6,386.9 99.8,387.2 100.9,387.5 102.1,387.9 103.3,388.5 104.4,389.2 105.6,390.1 106.8,391.2 108.0,392.4 109.1,393.7 110.3,395.1 111.5,396.6 112.6,398.2 113.8,399.9 115.0,401.8 116.2,403.9 117.3,406.2 118.5,408.7 119.7,411.3 120.8,414.1 122.0,417.1 123.2,420.3 124.4,423.8 125.6,427.4 126.8,431.1 127.9,434.7 128.8,438.3 129.8,442.0 130.6,445.7 131.5,449.1 132.3,452.3 133.0,455.0 133.7,457.4 134.4,459.6 135.1,461.7 135.8,464.0 136.5,466.4 137.2,468.8 137.9,471.1 138.6,473.5 139.3,475.7 139.9,477.9 140.6,480.2 141.2,482.3 141.9,484.3 142.5,486.0 143.1,487.3 143.7,488.4 144.3,489.4 144.9,490.2 145.4,491.0 145.9,491.7 146.4,492.3 146.8,492.8 147.4,493.3 148.1,493.9 148.9,494.5 149.8,495.0 150.8,495.6 151.9,496.2 153.0,496.8 154.3,497.5 155.6,498.3 157.0,499.1 158.3,499.8 159.5,500.3 160.5,500.6 161.3,500.8 162.1,500.8 163.0,500.7 163.9,500.6 164.9,500.5 165.9,500.2 167.0,499.9 168.0,499.6 169.1,499.2 170.2,498.7 171.3,498.2 172.4,497.6 173.5,497.1 174.7,496.5 175.9,496.0 177.2,495.5 178.5,494.9 179.8,494.4 181.1,493.9" fill="none" stroke="#767676" stroke-width="0.6" stroke-dasharray="1,0.9"/>
<polyline points="38.0,490.4 39.3,490.7 40.7,491.0 42.0,491.3 43.3,491.6 44.4,491.8 45.4,492.1 46.3,492.3 47.1,492.5 47.9,492.6 48.8,492.4 50.0,492.1 51.2,491.6 52.4,490.9 53.7,490.0 55.0,488.9 56.3,487.6 57.6,486.1 58.9,484.3 60.2,482.3 61.4,480.1 62.6,477.7 63.8,475.0 65.0,472.0 66.1,468.9 67.3,465.5 68.5,461.7 69.7,457.5 70.9,453.2 72.1,448.9 73.1,444.9 74.1,441.3 75.0,437.8 75.8,434.5 76.7,431.0 77.5,427.4 78.4,423.3 79.3,419.1 80.3,414.8 81.1,410.6 81.9,406.8 82.6,403.4 83.2,400.2 83.8,397.2 84.3,394.5 84.8,392.2 85.4,390.2 85.9,388.5 86.4,387.1 87.0,385.9 87.6,384.9 88.3,383.9 89.0,383.2 89.7,382.7 90.5,382.2 91.5,381.9 92.5,381.7 93.6,381.6 94.8,381.7 96.0,381.8 97.1,381.9 98.3,382.1 99.5,382.3 100.6,382.5 101.8,382.9 103.0,383.4 104.2,384.0 105.3,384.8 106.5,385.7 107.7,386.7 108.8,387.8 110.0,389.0 111.2,390.4 112.3,391.8 113.5,393.4 114.7,395.1 115.9,396.9 117.0,398.7 118.2,400.7 119.4,402.9 120.5,405.4 121.7,408.2 122.9,411.3 124.1,414.6 125.3,418.0 126.4,421.5 127.5,425.2 128.6,429.1 129.6,433.0 130.6,436.9 131.7,440.5 132.7,444.1 133.8,447.6 134.8,450.9 135.8,453.9 136.6,456.4 137.4,458.3 138.0,459.6 138.5,460.7 139.0,461.7 139.6,462.8 140.1,464.1 140.6,465.4 141.1,466.6 141.6,467.9 142.2,469.3 142.8,470.7 143.4,472.1 144.1,473.6 144.8,475.0 145.4,476.3 146.1,477.5 146.7,478.5 147.3,479.5 148.0,480.5 148.6,481.3 149.3,482.0 149.9,482.6 150.6,483.1 151.3,483.7 152.2,484.2 153.1,484.8 154.2,485.4 155.3,486.0 156.4,486.5 157.4,487.1 158.4,487.8 159.2,488.5 160.1,489.1 160.9,489.8 161.8,490.4 162.7,490.9 163.6,491.4 164.5,491.9 165.4,492.4 166.5,492.7 167.7,493.0 169.0,493.2 170.4,493.3 171.8,493.5 173.2,493.6 174.7,493.7 176.3,493.9 177.9,494.0 179.5,494.1 181.1,494.2" fill="none" stroke="#626262" stroke-width="0.6" stroke-dasharray="2.2,1"/>
<polyline points="38.0,487.4 39.3,487.7 40.7,488.1 42.0,488.4 43.3,488.7 44.4,488.9 45.4,489.1 46.3,489.4 47.1,489.6 47.9,489.7 48.8,489.5 50.0,489.1 51.2,488.6 52.4,488.0 53.7,487.1 55.0,486.0 56.3,484.6 57.6,483.1 58.9,481.4 60.2,479.4 61.4,477.2 62.6,474.7 63.8,472.0 65.0,469.1 66.1,465.9 67.3,462.5 68.4,458.8 69.6,454.9 70.8,450.7 72.0,446.4 73.1,442.0 74.3,437.5 75.5,432.7 76.6,427.9 77.8,423.1 79.0,418.6 80.2,414.2 81.4,409.8 82.6,405.6 83.8,401.6 84.8,398.0 85.8,394.8 86.6,391.8 87.4,389.2 88.1,386.8 88.9,384.9 89.6,383.3 90.3,382.1 91.1,381.2 91.8,380.5 92.7,379.9 93.8,379.3 95.0,378.9 96.3,378.7 97.5,378.5 98.6,378.4 99.4,378.3 100.1,378.2 100.8,378.2 101.5,378.3 102.4,378.7 103.5,379.3 104.8,380.0 106.1,380.9 107.5,381.9 108.8,383.1 110.1,384.4 111.5,385.8 112.8,387.4 114.1,389.1 115.3,391.0 116.4,393.1 117.6,395.4 118.6,397.9 119.6,400.2 120.5,402.4 121.3,404.4 122.0,406.1 122.6,407.8 123.2,409.6 123.8,411.5 124.4,413.6 125.0,415.8 125.7,418.0 126.3,420.4 127.0,423.0 127.7,425.6 128.4,428.5 129.2,431.4 130.0,434.5 130.8,437.6 131.6,440.9 132.5,444.3 133.5,447.8 134.3,451.2 135.2,454.3 135.9,457.2 136.6,459.8 137.3,462.4 138.0,464.7 138.7,466.9 139.4,469.0 140.1,470.9 140.8,472.6 141.5,474.2 142.2,475.7 142.9,477.0 143.6,478.2 144.3,479.2 145.0,480.1 145.7,481.0 146.5,481.8 147.3,482.4 148.1,483.0 148.9,483.6 149.8,484.2 150.8,484.8 151.8,485.4 152.9,486.0 154.0,486.5 155.1,487.1 156.2,487.8 157.4,488.5 158.6,489.2 159.8,489.8 160.9,490.4 162.0,490.9 162.9,491.3 163.8,491.8 164.8,492.1 165.9,492.4 167.1,492.6 168.4,492.8 169.7,492.9 171.2,493.0 172.6,493.0 174.2,493.0 175.9,493.1 177.6,493.0 179.4,493.0 181.1,493.0" fill="none" stroke="#747474" stroke-width="0.6"/>
<polyline points="38.0,486.0 39.3,486.5 40.7,487.0 42.0,487.4 43.3,487.9 44.4,488.3 45.4,488.7 46.3,489.2 47.1,489.6 47.9,489.8 48.8,489.8 50.0,489.6 51.2,489.2 52.4,488.7 53.7,487.9 55.0,486.9 56.3,485.5 57.6,483.9 58.9,482.1 60.2,480.0 61.4,477.8 62.6,475.3 63.8,472.6 65.0,469.7 66.1,466.5 67.3,463.1 68.4,459.4 69.6,455.5 70.8,451.3 72.0,447.0 73.1,442.6 74.3,438.0 75.5,433.1 76.6,428.2 77.8,423.3 79.0,418.6 80.2,413.9 81.4,409.1 82.6,404.5 83.8,400.3 84.8,396.6 85.8,393.5 86.6,390.8 87.4,388.6 88.1,386.6 88.9,384.9 89.7,383.3 90.4,382.1 91.2,381.2 92.0,380.4 92.7,379.9 93.5,379.6 94.3,379.5 95.0,379.6 95.8,379.8 96.5,379.9 97.3,379.9 98.0,379.8 98.7,379.8 99.4,379.8 100.1,379.9 100.8,379.9 101.5,380.0 102.2,380.2 102.9,380.4 103.6,380.7 104.2,381.2 104.8,381.9 105.3,382.6 105.9,383.4 106.5,384.3 107.1,385.3 107.7,386.4 108.3,387.5 109.0,388.8 109.7,390.1 110.5,391.6 111.4,393.1 112.3,394.7 113.2,396.3 114.1,397.7 114.9,399.1 115.8,400.3 116.6,401.5 117.4,402.8 118.2,404.2 119.1,405.8 120.0,407.4 120.8,409.2 121.7,411.1 122.6,413.3 123.4,415.8 124.3,418.5 125.1,421.4 125.9,424.4 126.7,427.4 127.5,430.4 128.3,433.5 129.0,436.6 129.8,439.7 130.5,442.6 131.2,445.3 131.9,448.0 132.5,450.5 133.1,452.9 133.7,455.2 134.3,457.3 134.8,459.3 135.3,461.1 135.9,462.9 136.3,464.6 136.8,466.2 137.3,467.7 137.8,469.2 138.2,470.5 138.7,471.9 139.1,473.2 139.5,474.5 139.9,475.7 140.3,476.9 140.7,478.1 141.1,479.2 141.6,480.4 142.0,481.5 142.4,482.6 142.8,483.6 143.2,484.6 143.6,485.6 144.0,486.5 144.4,487.3 144.8,488.0 145.3,488.7 145.7,489.3 146.1,489.8 146.6,490.3 147.2,490.7 147.8,491.0 148.5,491.2 149.2,491.4 150.0,491.6 151.0,491.8 152.1,492.1 153.4,492.4 154.7,492.7 156.1,493.0 157.4,493.3 158.7,493.6 159.9,494.0 161.1,494.3 162.4,494.6 163.9,494.8 165.5,494.8 167.2,494.7 169.0,494.5 170.9,494.4 172.6,494.2 174.4,494.0 176.1,493.9 177.7,493.7 179.4,493.5 181.1,493.3" fill="none" stroke="#505050" stroke-width="0.7"/>
<rect x="32.1" y="372.9" width="156.3" height="132.7" fill="none" stroke="#9a9a9a" stroke-width="1"/>
<line x1="30.5" x2="32.1" y1="391.4" y2="391.4" stroke="#9a9a9a" stroke-width="0.8"/>
<text x="27.9" y="391.4" transform="rotate(-90 27.9 391.4)" text-anchor="middle" class="t">60</text>
<line x1="30.5" x2="32.1" y1="419.9" y2="419.9" stroke="#9a9a9a" stroke-width="0.8"/>
<text x="27.9" y="419.9" transform="rotate(-90 27.9 419.9)" text-anchor="middle" class="t">40</text>
<line x1="30.5" x2="32.1" y1="448.3" y2="448.3" stroke="#9a9a9a" stroke-width="0.8"/>
<text x="27.9" y="448.3" transform="rotate(-90 27.9 448.3)" text-anchor="middle" class="t">20</text>
<line x1="30.5" x2="32.1" y1="476.8" y2="476.8" stroke="#9a9a9a" stroke-width="0.8"/>
<text x="27.9" y="476.8" transform="rotate(-90 27.9 476.8)" text-anchor="middle" class="t">0</text>
<line x1="30.5" x2="32.1" y1="505.3" y2="505.3" stroke="#9a9a9a" stroke-width="0.8"/>
<text x="27.9" y="505.3" transform="rotate(-90 27.9 505.3)" text-anchor="middle" class="t">-20</text>
<text x="20.7" y="439.2" transform="rotate(-90 20.7 439.2)" text-anchor="middle" class="t">Angle (deg)</text>
<text x="110.2" y="370.7" text-anchor="middle" class="tt">cubic,λ=1x10<tspan dy="-3.6" font-size="6.6">-4</tspan></text>
<line x1="206.8" x2="362.9" y1="445.0" y2="445.0" stroke="#8a8a8a" stroke-width="0.7" stroke-dasharray="1,0.9"/>
<polyline points="212.8,447.1 214.0,446.9 215.3,446.8 216.5,446.6 217.6,446.4 218.7,446.2 219.7,445.9 220.6,445.7 221.4,445.3 222.3,444.8 223.1,444.1 224.0,443.1 224.8,442.0 225.7,440.7 226.6,439.1 227.6,437.3 228.6,435.3 229.8,432.9 231.0,430.4 232.3,427.7 233.5,425.0 234.6,422.2 235.8,419.2 237.0,416.2 238.2,413.2 239.3,410.2 240.5,407.2 241.8,404.1 243.0,401.0 244.2,398.1 245.2,395.5 246.2,393.2 247.1,391.2 248.0,389.4 248.8,387.9 249.7,386.7 250.5,385.8 251.2,385.3 252.0,385.1 252.7,385.0 253.5,385.2 254.2,385.5 254.9,386.1 255.6,386.8 256.3,387.8 257.0,389.0 257.8,390.5 258.7,392.1 259.6,394.0 260.5,396.1 261.4,398.5 262.3,401.1 263.2,404.0 264.1,407.0 265.0,410.2 265.9,413.2 266.7,416.2 267.6,419.1 268.5,422.1 269.4,425.1 270.3,427.9 271.2,430.7 272.0,433.5 272.9,436.1 273.8,438.7 274.7,441.2 275.6,443.5 276.5,445.6 277.3,447.7 278.2,449.6 279.1,451.5 280.0,453.2 280.9,454.7 281.8,456.1 282.6,457.5 283.5,458.8 284.4,460.1 285.3,461.3 286.2,462.4 287.1,463.6 287.9,464.7 288.8,465.9 289.7,466.9 290.6,468.1 291.5,469.3 292.4,470.6 293.2,472.2 294.1,473.9 295.0,475.8 295.9,477.6 296.8,479.5 297.7,481.3 298.6,483.2 299.5,485.1 300.4,486.8 301.2,488.3 301.9,489.5 302.4,490.5 302.9,491.3 303.5,491.8 304.1,492.1 304.9,492.1 305.8,491.9 306.7,491.4 307.7,490.7 308.6,489.8 309.4,488.7 310.3,487.4 311.2,485.9 312.1,484.2 313.0,482.4 313.9,480.4 314.8,478.1 315.6,475.7 316.5,473.1 317.4,470.6 318.3,468.0 319.2,465.2 320.1,462.4 320.9,459.8 321.8,457.4 322.7,455.3 323.5,453.4 324.4,451.6 325.3,450.0 326.2,448.5 327.3,447.1 328.5,445.8 329.7,444.6 330.9,443.6 332.1,442.6 333.3,441.8 334.5,441.2 335.7,440.6 336.8,440.1 338.0,439.7 339.2,439.3 340.3,438.9 341.4,438.6 342.6,438.4 343.9,438.2 345.3,438.1 346.8,438.1 348.4,438.1 349.9,438.2 351.3,438.2 352.5,438.2 353.7,438.2 354.9,438.2 356.0,438.2 357.2,438.2" fill="none" stroke="#ababab" stroke-width="0.6"/>
<polyline points="212.8,446.2 214.0,446.2 215.3,446.2 216.5,446.3 217.6,446.2 218.7,446.2 219.7,446.1 220.6,446.1 221.4,445.9 222.3,445.6 223.1,445.0 224.0,444.1 224.8,442.9 225.7,441.6 226.6,440.0 227.6,438.2 228.6,436.3 229.8,434.1 231.0,431.7 232.3,429.2 233.5,426.4 234.7,423.5 235.9,420.3 237.1,416.9 238.3,413.5 239.3,410.2 240.3,406.9 241.2,403.5 242.1,400.2 242.9,397.0 243.8,394.0 244.6,391.3 245.4,388.7 246.2,386.2 247.0,384.1 247.6,382.3 248.1,380.8 248.5,379.6 248.9,378.7 249.2,378.1 249.7,377.8 250.2,377.8 250.7,378.1 251.3,378.6 251.9,379.5 252.6,380.8 253.3,382.5 254.1,384.7 254.9,387.2 255.7,389.9 256.4,392.6 257.1,395.3 257.8,398.2 258.5,401.2 259.2,404.2 260.0,407.3 260.8,410.5 261.7,413.7 262.6,417.0 263.5,420.3 264.4,423.5 265.3,426.6 266.2,429.6 267.0,432.6 267.9,435.5 268.8,438.2 269.7,440.8 270.6,443.3 271.5,445.6 272.3,447.9 273.2,450.0 274.1,452.0 275.0,453.9 275.9,455.7 276.8,457.3 277.6,458.8 278.5,460.2 279.4,461.4 280.3,462.5 281.2,463.6 282.1,464.7 282.9,465.9 283.8,467.1 284.7,468.3 285.6,469.4 286.5,470.6 287.4,471.8 288.2,472.8 289.1,473.9 290.0,475.1 290.9,476.5 291.8,478.1 292.7,479.8 293.5,481.7 294.4,483.5 295.3,485.3 296.2,487.2 297.1,489.0 298.0,490.9 298.8,492.6 299.7,494.2 300.6,495.6 301.6,497.0 302.5,498.2 303.4,499.3 304.1,500.1 304.8,500.6 305.4,501.0 305.9,501.1 306.5,501.1 307.1,501.0 307.8,500.7 308.5,500.3 309.2,499.8 309.9,499.0 310.6,498.0 311.4,496.8 312.1,495.3 312.9,493.7 313.6,491.8 314.5,489.8 315.3,487.4 316.2,484.8 317.1,482.1 318.0,479.2 318.9,476.5 319.8,473.8 320.6,471.1 321.5,468.3 322.4,465.7 323.3,463.3 324.2,460.9 325.0,458.7 325.8,456.6 326.7,454.7 327.7,452.9 328.8,451.4 330.0,450.1 331.2,449.0 332.4,448.0 333.6,447.1 334.8,446.3 336.0,445.6 337.1,445.0 338.3,444.6 339.5,444.1 340.7,443.7 341.8,443.3 343.0,443.0 344.2,442.8 345.4,442.6 346.6,442.6 347.7,442.7 348.9,442.9 350.1,443.1 351.3,443.2 352.5,443.4 353.6,443.6 354.8,443.7 356.0,443.9 357.2,444.1" fill="none" stroke="#767676" stroke-width="0.6" stroke-dasharray="1,0.9"/>
<polyline points="212.8,447.9 214.0,447.8 215.3,447.6 216.5,447.5 217.6,447.3 218.7,447.1 219.7,446.8 220.6,446.5 221.4,446.2 222.3,445.7 223.1,445.0 224.0,444.1 224.8,443.1 225.7,441.9 226.6,440.6 227.6,439.1 228.6,437.5 229.8,435.7 231.0,433.7 232.3,431.6 233.5,429.4 234.6,427.0 235.8,424.4 237.0,421.7 238.2,418.9 239.3,416.1 240.5,413.2 241.8,410.1 243.0,406.9 244.2,404.0 245.2,401.4 246.2,399.2 247.2,397.2 248.0,395.4 248.9,393.9 249.7,392.6 250.4,391.5 251.1,390.5 251.8,389.9 252.5,389.5 253.2,389.6 253.9,390.1 254.7,390.9 255.4,392.1 256.2,393.6 257.0,395.5 257.9,397.9 258.7,400.8 259.6,403.9 260.5,407.2 261.4,410.2 262.3,413.2 263.2,416.1 264.1,419.1 265.0,422.0 265.9,425.0 266.7,428.0 267.6,431.1 268.5,434.1 269.4,437.0 270.3,439.7 271.2,442.1 272.0,444.3 272.9,446.3 273.8,448.2 274.7,450.0 275.6,451.7 276.5,453.2 277.3,454.7 278.2,456.0 279.1,457.4 280.0,458.6 280.9,459.8 281.8,461.0 282.6,462.1 283.5,463.3 284.4,464.4 285.3,465.5 286.2,466.6 287.1,467.8 287.9,469.1 288.8,470.7 289.7,472.4 290.6,474.2 291.5,476.1 292.4,478.0 293.2,480.0 294.1,482.1 295.0,484.3 295.9,486.4 296.8,488.3 297.7,490.0 298.6,491.6 299.4,493.1 300.3,494.5 301.2,495.7 302.1,496.7 303.0,497.6 303.9,498.3 304.8,498.8 305.6,499.2 306.4,499.3 307.2,499.3 307.9,499.1 308.7,498.7 309.4,498.0 310.2,497.1 311.0,495.9 311.9,494.6 312.7,493.0 313.6,491.2 314.5,489.2 315.4,487.0 316.4,484.6 317.3,482.1 318.3,479.5 319.3,476.6 320.3,473.6 321.3,470.4 322.3,467.4 323.3,464.7 324.2,462.3 325.0,460.1 325.9,458.1 326.7,456.2 327.7,454.4 328.8,452.8 330.0,451.4 331.2,450.2 332.4,449.0 333.6,447.9 334.8,447.0 336.0,446.2 337.1,445.5 338.3,444.8 339.5,444.1 340.7,443.5 341.8,442.9 343.0,442.3 344.2,441.7 345.4,441.2 346.6,440.6 347.7,440.0 348.9,439.4 350.1,438.9 351.3,438.5 352.5,438.3 353.6,438.2 354.8,438.2 356.0,438.2 357.2,438.2" fill="none" stroke="#626262" stroke-width="0.6" stroke-dasharray="2.2,1"/>
<polyline points="212.8,450.0 214.0,449.7 215.3,449.5 216.5,449.2 217.6,448.9 218.7,448.5 219.7,448.2 220.6,447.8 221.4,447.3 222.3,446.8 223.1,446.2 224.0,445.4 224.8,444.6 225.7,443.7 226.6,442.5 227.6,441.2 228.6,439.5 229.8,437.6 231.0,435.4 232.3,433.2 233.5,430.9 234.6,428.4 235.8,425.9 237.0,423.3 238.2,420.5 239.3,417.6 240.5,414.5 241.7,411.1 242.9,407.7 244.1,404.4 245.2,401.4 246.5,398.6 247.7,396.0 248.9,393.5 250.1,391.4 251.1,389.6 252.0,388.2 252.7,387.2 253.3,386.5 254.0,386.1 254.7,386.1 255.4,386.5 256.1,387.2 256.9,388.3 257.7,389.6 258.5,391.1 259.3,392.7 260.2,394.6 261.1,396.7 262.0,399.0 262.9,401.4 263.8,404.0 264.7,406.9 265.6,409.9 266.4,413.0 267.3,416.1 268.2,419.3 269.1,422.6 270.0,426.0 270.9,429.3 271.7,432.3 272.6,435.2 273.5,438.0 274.4,440.6 275.3,443.2 276.2,445.6 277.0,447.9 277.9,450.1 278.8,452.1 279.7,454.1 280.6,455.9 281.5,457.6 282.4,459.1 283.2,460.6 284.1,461.9 285.0,463.3 285.9,464.5 286.8,465.6 287.7,466.8 288.5,467.9 289.4,469.1 290.3,470.5 291.2,471.8 292.1,473.3 293.0,474.8 293.8,476.5 294.7,478.4 295.6,480.6 296.5,482.8 297.4,484.9 298.3,486.8 299.1,488.6 300.1,490.2 300.9,491.7 301.8,493.0 302.7,494.2 303.5,495.1 304.3,495.9 305.0,496.5 305.8,496.9 306.5,497.1 307.2,497.1 307.9,497.0 308.6,496.6 309.3,496.0 310.0,495.1 310.9,493.9 311.7,492.5 312.6,490.8 313.6,488.9 314.5,486.8 315.3,484.5 316.2,481.8 317.1,479.0 318.0,476.2 318.9,473.6 319.8,471.1 320.6,468.6 321.5,466.2 322.4,463.9 323.3,461.8 324.2,459.8 325.0,457.9 325.8,456.1 326.7,454.5 327.7,452.9 328.8,451.6 330.0,450.3 331.2,449.2 332.4,448.1 333.6,447.1 334.8,446.0 336.0,445.1 337.1,444.2 338.3,443.3 339.5,442.6 340.7,442.0 341.8,441.5 343.0,441.0 344.2,440.7 345.4,440.6 346.6,440.6 347.7,440.9 348.9,441.3 350.1,441.7 351.3,442.0 352.5,442.3 353.6,442.5 354.8,442.8 356.0,443.0 357.2,443.2" fill="none" stroke="#747474" stroke-width="0.6"/>
<polyline points="212.8,449.1 214.0,448.9 215.3,448.7 216.5,448.5 217.6,448.3 218.7,447.9 219.7,447.6 220.6,447.3 221.4,446.8 222.3,446.3 223.1,445.6 224.0,444.7 224.8,443.8 225.7,442.6 226.6,441.3 227.6,439.7 228.6,437.8 229.8,435.5 231.0,433.1 232.3,430.5 233.5,427.9 234.6,425.2 235.8,422.3 237.0,419.3 238.2,416.3 239.3,413.2 240.5,409.9 241.8,406.5 243.0,403.1 244.2,399.8 245.2,397.0 246.2,394.5 247.2,392.3 248.1,390.3 248.9,388.6 249.7,387.3 250.3,386.3 250.9,385.6 251.4,385.2 252.0,385.1 252.6,385.2 253.3,385.6 254.1,386.3 254.9,387.2 255.7,388.3 256.4,389.6 257.1,391.0 257.8,392.6 258.5,394.3 259.2,396.2 260.0,398.5 260.8,401.0 261.7,403.9 262.6,407.0 263.5,410.1 264.4,413.2 265.3,416.1 266.2,419.1 267.0,422.0 267.9,425.0 268.8,427.9 269.7,430.9 270.6,434.0 271.5,437.1 272.3,440.0 273.2,442.6 274.1,445.0 275.0,447.2 275.9,449.2 276.8,451.1 277.6,452.9 278.5,454.6 279.4,456.2 280.3,457.6 281.2,459.0 282.1,460.3 282.9,461.6 283.8,462.8 284.7,463.9 285.6,465.0 286.5,466.2 287.4,467.3 288.2,468.4 289.1,469.5 290.0,470.7 290.9,472.1 291.8,473.7 292.7,475.4 293.5,477.3 294.4,479.1 295.3,480.9 296.2,482.7 297.1,484.6 298.0,486.4 298.8,488.1 299.7,489.8 300.6,491.3 301.6,492.8 302.5,494.1 303.4,495.3 304.1,496.2 304.8,497.0 305.4,497.5 305.9,497.8 306.5,498.0 307.1,498.0 307.8,497.9 308.5,497.6 309.2,497.2 309.9,496.5 310.6,495.7 311.4,494.6 312.1,493.4 312.9,491.9 313.6,490.2 314.5,488.3 315.3,486.0 316.2,483.3 317.1,480.5 318.0,477.7 318.9,475.0 319.8,472.5 320.6,470.1 321.5,467.7 322.4,465.4 323.3,463.3 324.2,461.3 325.0,459.4 325.8,457.6 326.7,456.0 327.7,454.4 328.8,453.0 330.0,451.7 331.2,450.6 332.4,449.5 333.6,448.5 334.8,447.7 336.0,446.9 337.1,446.2 338.3,445.6 339.5,445.0 340.7,444.4 341.8,443.9 343.0,443.4 344.2,443.0 345.4,442.6 346.6,442.4 347.7,442.2 348.9,442.1 350.1,442.1 351.3,442.0 352.5,442.1 353.6,442.2 354.8,442.3 356.0,442.5 357.2,442.6" fill="none" stroke="#505050" stroke-width="0.7"/>
<rect x="206.8" y="372.9" width="156.1" height="132.7" fill="none" stroke="#9a9a9a" stroke-width="1"/>
<line x1="205.2" x2="206.8" y1="387.6" y2="387.6" stroke="#9a9a9a" stroke-width="0.8"/>
<text x="202.6" y="387.6" transform="rotate(-90 202.6 387.6)" text-anchor="middle" class="t">400</text>
<line x1="205.2" x2="206.8" y1="416.3" y2="416.3" stroke="#9a9a9a" stroke-width="0.8"/>
<text x="202.6" y="416.3" transform="rotate(-90 202.6 416.3)" text-anchor="middle" class="t">200</text>
<line x1="205.2" x2="206.8" y1="445.0" y2="445.0" stroke="#9a9a9a" stroke-width="0.8"/>
<text x="202.6" y="445.0" transform="rotate(-90 202.6 445.0)" text-anchor="middle" class="t">0</text>
<line x1="205.2" x2="206.8" y1="473.7" y2="473.7" stroke="#9a9a9a" stroke-width="0.8"/>
<text x="202.6" y="473.7" transform="rotate(-90 202.6 473.7)" text-anchor="middle" class="t">-200</text>
<line x1="205.2" x2="206.8" y1="502.4" y2="502.4" stroke="#9a9a9a" stroke-width="0.8"/>
<text x="202.6" y="502.4" transform="rotate(-90 202.6 502.4)" text-anchor="middle" class="t">-400</text>
<text x="195.4" y="439.2" transform="rotate(-90 195.4 439.2)" text-anchor="middle" class="t">Velocity (deg/%)</text>
<text x="284.9" y="370.7" text-anchor="middle" class="tt">1<tspan dy="-3.6" font-size="6.6">st</tspan><tspan dy="3.6"> derivative</tspan></text>
<line x1="381.5" x2="537.6" y1="428.2" y2="428.2" stroke="#8a8a8a" stroke-width="0.7" stroke-dasharray="1,0.9"/>
<polyline points="388.4,428.5 389.2,427.0 389.9,425.5 390.7,424.0 391.5,422.4 392.3,420.5 393.1,418.4 394.0,416.1 394.9,413.7 395.8,411.2 396.7,408.8 397.6,406.4 398.4,404.0 399.3,401.6 400.2,399.2 401.1,397.0 402.0,394.7 402.9,392.4 403.8,390.2 404.7,388.3 405.5,386.7 406.2,385.4 406.8,384.5 407.3,383.8 407.9,383.4 408.5,383.1 409.0,383.1 409.6,383.3 410.2,383.7 410.8,384.4 411.4,385.2 412.0,386.4 412.6,387.8 413.2,389.5 413.8,391.1 414.3,392.6 414.9,394.0 415.5,395.4 416.1,396.7 416.7,397.8 417.3,398.5 417.9,398.4 418.5,397.8 419.1,397.1 419.6,396.6 420.2,397.0 420.8,398.1 421.4,399.8 422.0,401.9 422.6,404.4 423.2,407.3 423.8,410.7 424.4,414.7 424.9,419.0 425.5,423.4 426.1,427.9 426.7,432.5 427.3,437.3 427.9,442.1 428.5,446.9 429.1,451.5 429.7,455.9 430.3,460.3 430.8,464.5 431.4,468.5 432.0,472.1 432.6,475.4 433.2,478.4 433.8,481.1 434.4,483.5 435.0,485.3 435.6,486.7 436.1,487.7 436.7,488.2 437.3,488.4 437.9,488.3 438.5,487.8 439.1,486.9 439.6,485.7 440.2,484.2 440.9,482.4 441.5,480.2 442.2,477.7 442.9,474.9 443.7,472.0 444.4,469.1 445.1,466.2 445.9,463.1 446.6,459.9 447.4,457.0 448.2,454.4 449.1,452.3 449.9,450.4 450.8,448.8 451.7,447.4 452.6,446.2 453.5,445.1 454.4,444.1 455.3,443.4 456.2,442.9 457.1,442.6 457.9,442.7 458.8,443.1 459.7,443.8 460.6,444.6 461.5,445.6 462.4,446.8 463.2,448.2 464.1,449.8 465.0,451.4 465.9,452.9 466.8,454.6 467.7,456.4 468.6,458.1 469.5,459.5 470.3,460.3 471.0,460.6 471.6,460.6 472.1,460.1 472.7,459.1 473.3,457.4 473.8,454.9 474.4,451.6 475.0,447.9 475.6,443.8 476.2,439.7 476.8,435.2 477.4,430.3 478.0,425.2 478.6,420.4 479.1,416.1 479.7,412.5 480.3,409.1 480.9,406.1 481.5,403.5 482.1,401.4 482.7,399.7 483.2,398.5 483.8,397.6 484.4,397.1 485.0,397.0 485.7,397.3 486.4,398.1 487.1,399.2 487.8,400.4 488.6,401.4 489.3,402.3 490.1,403.2 490.8,404.1 491.6,404.9 492.4,405.8 493.2,406.7 494.1,407.7 495.0,408.6 495.9,409.4 496.8,410.2 497.7,411.0 498.6,411.7 499.5,412.3 500.4,412.8 501.2,413.2 502.1,413.3 503.0,413.1 503.9,412.9 504.8,412.7 505.7,412.6 506.5,412.6 507.4,412.5 508.3,412.5 509.2,412.7 510.1,413.2 511.0,414.0 511.8,415.1 512.7,416.4 513.6,417.7 514.5,419.1 515.4,420.5 516.3,422.0 517.1,423.5 518.0,425.0 518.9,426.4 519.8,427.8 520.7,429.1 521.6,430.4 522.4,431.5 523.3,432.3 524.2,433.0 525.2,433.5 526.1,433.8 527.0,434.0 527.7,433.8 528.4,433.3 529.0,432.5 529.6,431.4 530.1,430.4 530.7,429.4" fill="none" stroke="#ababab" stroke-width="0.6"/>
<polyline points="388.4,428.5 389.2,427.3 389.9,426.2 390.7,425.0 391.5,423.7 392.3,422.0 393.1,420.0 394.0,417.7 394.9,415.2 395.8,412.7 396.7,410.2 397.6,407.8 398.4,405.4 399.3,403.0 400.2,400.6 401.1,398.5 402.0,396.5 402.9,394.6 403.7,392.8 404.6,391.2 405.5,389.6 406.4,388.2 407.3,386.9 408.2,385.8 409.1,384.7 409.9,383.7 410.7,382.9 411.5,382.1 412.3,381.4 413.1,380.8 413.8,380.2 414.4,379.5 415.0,378.7 415.6,378.0 416.1,377.7 416.7,377.8 417.3,378.5 417.9,379.7 418.5,381.2 419.1,383.0 419.6,385.2 420.2,387.9 420.9,391.0 421.5,394.4 422.0,397.9 422.6,401.4 423.1,404.7 423.6,407.9 424.0,411.3 424.5,414.9 424.9,419.1 425.5,423.8 426.0,429.0 426.5,434.6 427.0,440.1 427.6,445.6 428.2,451.0 428.8,456.5 429.4,461.9 430.0,467.2 430.5,472.1 431.1,476.8 431.5,481.4 432.0,485.7 432.5,489.5 432.9,492.7 433.3,495.2 433.7,497.2 434.1,498.7 434.5,499.7 435.0,500.1 435.4,499.9 435.9,499.2 436.3,497.9 436.8,496.2 437.3,494.2 437.9,491.6 438.4,488.5 439.0,485.1 439.6,481.5 440.3,478.0 440.9,474.4 441.6,470.7 442.3,466.9 443.0,463.4 443.8,460.3 444.6,457.7 445.5,455.4 446.4,453.3 447.3,451.6 448.2,450.0 449.1,448.7 450.0,447.6 450.9,446.7 451.8,446.1 452.6,445.6 453.5,445.3 454.4,445.2 455.3,445.4 456.2,445.7 457.1,446.2 457.9,446.9 458.8,447.8 459.7,448.9 460.6,450.1 461.5,451.5 462.4,453.0 463.3,454.8 464.2,456.6 465.0,458.5 465.9,460.3 466.7,462.3 467.5,464.4 468.3,466.5 469.0,468.1 469.7,469.1 470.4,469.6 471.0,469.7 471.5,469.2 472.1,468.1 472.7,466.2 473.3,463.3 473.8,459.4 474.4,454.9 475.0,450.2 475.6,445.6 476.2,441.0 476.8,436.1 477.4,431.2 478.0,426.4 478.6,422.0 479.1,418.0 479.7,414.2 480.3,410.7 480.9,407.4 481.5,404.3 482.2,401.5 482.8,398.9 483.5,396.6 484.3,394.4 485.0,392.6 485.9,391.0 486.7,389.7 487.6,388.6 488.6,387.7 489.5,386.7 490.4,385.6 491.3,384.4 492.3,383.4 493.1,382.6 493.9,382.3 494.5,382.2 494.9,382.5 495.3,383.0 495.8,383.9 496.2,385.2 496.8,387.0 497.4,389.2 498.0,391.7 498.6,394.4 499.2,397.0 499.8,399.7 500.3,402.5 500.9,405.4 501.5,408.0 502.1,410.2 502.8,412.0 503.5,413.3 504.2,414.4 504.9,415.4 505.7,416.1 506.5,416.6 507.4,416.8 508.3,416.9 509.2,417.1 510.1,417.6 511.0,418.5 511.8,419.6 512.7,420.9 513.6,422.2 514.5,423.5 515.4,424.7 516.3,425.9 517.1,427.1 518.0,428.3 518.9,429.4 519.8,430.5 520.7,431.6 521.6,432.7 522.4,433.7 523.3,434.4 524.2,434.9 525.2,435.4 526.1,435.6 527.0,435.6 527.7,435.3 528.4,434.5 529.0,433.4 529.6,432.1 530.1,430.7 530.7,429.4" fill="none" stroke="#767676" stroke-width="0.6" stroke-dasharray="1,0.9"/>
<polyline points="388.4,428.5 389.5,428.0 390.6,427.5 391.7,427.0 392.7,426.4 393.7,425.6 394.7,424.5 395.6,423.3 396.4,421.9 397.3,420.5 398.1,419.1 399.0,417.7 399.8,416.2 400.7,414.7 401.6,413.2 402.6,411.7 403.6,410.2 404.8,408.7 406.0,407.2 407.3,405.7 408.5,404.3 409.6,403.1 410.8,401.9 412.0,400.7 413.2,399.6 414.3,398.5 415.6,397.1 416.8,395.7 418.1,394.3 419.2,393.2 420.2,392.6 421.0,392.4 421.6,392.7 422.1,393.3 422.6,394.2 423.2,395.5 423.8,397.1 424.4,399.0 424.9,401.3 425.5,404.0 426.1,407.3 426.7,411.2 427.3,415.7 427.9,420.7 428.5,425.8 429.1,430.9 429.7,436.1 430.3,441.5 430.8,447.0 431.4,452.4 432.0,457.4 432.6,462.0 433.2,466.5 433.8,470.7 434.4,474.5 435.0,478.0 435.6,481.1 436.1,484.0 436.7,486.4 437.3,488.4 437.9,489.8 438.5,490.5 439.1,490.6 439.6,490.3 440.2,489.5 440.9,488.3 441.5,486.6 442.2,484.4 442.9,481.8 443.7,479.1 444.4,476.5 445.1,473.9 445.9,471.1 446.6,468.3 447.4,465.6 448.2,463.3 449.1,461.1 449.9,459.2 450.8,457.4 451.7,455.8 452.6,454.4 453.5,453.2 454.4,452.1 455.3,451.1 456.2,450.4 457.1,450.0 457.9,449.8 458.8,450.0 459.7,450.3 460.6,450.8 461.5,451.5 462.4,452.3 463.2,453.4 464.1,454.6 465.0,455.9 465.9,457.4 466.8,459.0 467.7,461.0 468.6,462.9 469.5,464.8 470.3,466.2 471.0,467.5 471.6,468.7 472.1,469.5 472.7,469.8 473.3,469.1 473.8,467.4 474.4,464.8 475.0,461.6 475.6,458.0 476.2,454.4 476.8,450.6 477.4,446.5 478.0,442.2 478.6,437.9 479.1,433.8 479.7,429.7 480.3,425.6 480.9,421.6 481.5,417.9 482.1,414.7 482.8,412.0 483.5,409.8 484.2,408.0 484.9,406.4 485.6,404.9 486.4,403.7 487.1,402.8 487.9,402.1 488.7,401.4 489.5,400.8 490.2,400.2 491.0,399.6 491.8,399.2 492.5,398.8 493.3,398.5 494.0,398.2 494.7,397.9 495.4,397.8 496.1,397.8 496.8,398.2 497.5,398.9 498.2,399.9 498.9,401.1 499.6,402.4 500.4,403.8 501.1,405.1 501.8,406.7 502.6,408.2 503.4,409.7 504.2,410.8 505.0,411.7 505.9,412.3 506.8,412.8 507.7,413.3 508.6,413.8 509.5,414.3 510.4,414.7 511.3,415.1 512.2,415.6 513.0,416.1 513.8,416.7 514.6,417.3 515.3,418.0 516.1,418.7 516.8,419.7 517.7,420.8 518.5,422.2 519.3,423.6 520.1,425.1 521.0,426.4 521.8,427.8 522.7,429.3 523.5,430.7 524.4,431.7 525.4,432.3 526.4,432.3 527.4,431.8 528.5,431.0 529.6,430.1 530.7,429.4" fill="none" stroke="#626262" stroke-width="0.6" stroke-dasharray="2.2,1"/>
<polyline points="388.4,428.5 389.5,427.2 390.6,426.0 391.7,424.8 392.7,423.5 393.7,422.0 394.7,420.4 395.6,418.6 396.4,416.7 397.3,414.9 398.1,413.2 399.0,411.6 399.8,410.1 400.7,408.6 401.6,407.2 402.6,405.8 403.6,404.5 404.8,403.3 406.0,402.1 407.3,401.0 408.5,399.9 409.7,398.9 410.9,398.0 412.1,397.1 413.3,396.3 414.3,395.5 415.3,394.6 416.2,393.6 417.1,392.7 417.9,392.1 418.8,392.0 419.6,392.3 420.4,393.0 421.2,394.0 421.9,395.3 422.6,397.0 423.2,399.0 423.8,401.3 424.4,404.0 425.0,407.0 425.5,410.2 426.1,413.9 426.7,418.0 427.3,422.3 427.9,426.6 428.5,430.9 429.1,435.0 429.6,439.1 430.2,443.2 430.8,447.4 431.4,451.5 432.1,455.7 432.8,460.0 433.6,464.3 434.3,468.3 435.0,472.1 435.6,475.6 436.2,479.0 436.8,482.1 437.4,484.7 437.9,486.8 438.4,488.3 438.9,489.3 439.3,489.9 439.8,490.0 440.3,489.8 440.8,489.0 441.4,487.8 442.0,486.3 442.6,484.4 443.2,482.4 443.9,480.1 444.5,477.5 445.2,474.6 446.0,471.8 446.7,469.1 447.6,466.6 448.5,464.0 449.4,461.6 450.3,459.3 451.2,457.4 452.0,455.8 452.9,454.4 453.8,453.3 454.7,452.4 455.6,451.5 456.5,450.6 457.4,449.7 458.2,448.9 459.1,448.5 460.0,448.5 460.9,449.1 461.8,450.2 462.7,451.5 463.5,453.0 464.4,454.4 465.3,455.9 466.3,457.5 467.2,459.1 468.0,460.6 468.8,461.8 469.5,462.9 470.1,464.1 470.7,464.9 471.2,465.2 471.8,464.7 472.4,463.3 472.9,461.1 473.5,458.3 474.1,455.0 474.7,451.5 475.4,447.3 476.2,442.5 477.0,437.4 477.8,432.4 478.6,427.9 479.3,423.9 480.0,420.1 480.6,416.6 481.3,413.3 482.1,410.2 482.9,407.3 483.8,404.5 484.7,402.0 485.6,400.0 486.5,398.5 487.4,397.7 488.3,397.5 489.2,397.7 490.0,398.1 490.9,398.5 491.8,398.8 492.7,399.3 493.6,399.9 494.5,400.6 495.3,401.4 496.3,402.4 497.2,403.6 498.1,404.9 499.0,406.2 499.8,407.3 500.4,408.3 501.0,409.3 501.5,410.2 502.1,411.0 502.7,411.7 503.5,412.2 504.4,412.4 505.3,412.6 506.2,412.8 507.1,413.2 508.0,413.7 508.9,414.2 509.8,414.8 510.7,415.4 511.5,416.1 512.4,416.9 513.3,417.6 514.2,418.5 515.1,419.5 516.0,420.5 516.8,421.9 517.7,423.4 518.6,425.0 519.5,426.6 520.4,427.9 521.2,429.1 522.1,430.3 522.9,431.3 523.8,432.0 524.8,432.3 525.9,432.1 527.1,431.4 528.3,430.4 529.5,429.4 530.7,428.5" fill="none" stroke="#747474" stroke-width="0.6"/>
<polyline points="388.4,428.5 389.2,427.6 389.9,426.8 390.7,425.9 391.5,424.8 392.3,423.5 393.1,421.8 394.0,419.7 394.9,417.5 395.8,415.3 396.7,413.2 397.6,411.2 398.4,409.2 399.3,407.2 400.2,405.4 401.1,403.8 402.0,402.3 402.9,401.0 403.7,399.9 404.6,398.9 405.5,397.9 406.4,397.0 407.3,396.2 408.2,395.5 409.1,394.8 409.9,394.0 410.7,393.3 411.5,392.5 412.3,391.7 413.1,390.9 413.8,390.2 414.4,389.5 415.0,388.6 415.6,387.9 416.1,387.4 416.7,387.3 417.3,387.5 417.9,387.9 418.5,388.7 419.1,389.7 419.6,391.1 420.2,392.8 420.8,394.9 421.4,397.4 422.0,400.0 422.6,402.9 423.2,406.0 423.8,409.4 424.4,413.1 424.9,416.8 425.5,420.5 426.1,424.3 426.7,428.2 427.3,432.2 427.9,436.0 428.5,439.7 429.1,443.2 429.7,446.5 430.3,449.8 430.8,452.9 431.4,455.9 432.0,458.8 432.6,461.5 433.2,464.2 433.8,466.7 434.4,469.1 435.0,471.5 435.6,473.8 436.2,476.0 436.8,477.9 437.3,479.5 437.8,480.6 438.3,481.5 438.7,482.1 439.2,482.4 439.7,482.4 440.2,482.1 440.7,481.5 441.2,480.6 441.7,479.5 442.3,478.0 443.0,476.1 443.8,473.8 444.5,471.3 445.4,468.7 446.2,466.2 447.0,463.8 447.8,461.3 448.6,458.8 449.4,456.5 450.3,454.4 451.2,452.6 452.2,451.0 453.1,449.6 454.1,448.3 455.0,447.1 455.9,445.8 456.7,444.7 457.5,443.6 458.3,442.9 459.1,442.6 459.9,442.9 460.7,443.6 461.4,444.5 462.2,445.7 462.9,447.1 463.7,448.6 464.5,450.3 465.3,452.3 466.0,454.1 466.8,455.9 467.5,457.6 468.3,459.4 469.0,461.1 469.7,462.5 470.3,463.3 470.8,463.6 471.3,463.5 471.7,463.0 472.2,462.0 472.7,460.3 473.2,457.8 473.8,454.6 474.4,450.8 475.0,446.8 475.6,442.6 476.3,438.2 477.0,433.3 477.7,428.3 478.4,423.4 479.1,419.1 479.8,415.2 480.5,411.7 481.2,408.5 482.0,405.5 482.7,402.9 483.4,400.6 484.2,398.7 485.0,397.1 485.7,395.6 486.5,394.0 487.3,392.4 488.1,390.8 488.9,389.3 489.6,387.9 490.3,386.7 491.0,385.5 491.6,384.4 492.2,383.5 492.7,382.7 493.3,382.3 493.8,382.0 494.3,382.0 494.7,382.2 495.2,382.8 495.6,383.7 496.1,385.2 496.7,387.1 497.2,389.4 497.7,391.7 498.3,394.0 498.9,396.3 499.5,398.8 500.0,401.2 500.6,403.6 501.2,405.8 501.8,407.9 502.3,409.8 502.9,411.7 503.5,413.3 504.2,414.7 505.0,415.6 505.8,416.3 506.8,416.8 507.7,417.2 508.6,417.6 509.5,418.0 510.4,418.2 511.3,418.4 512.1,418.7 513.0,419.1 513.9,419.6 514.8,420.1 515.7,420.8 516.6,421.4 517.4,422.0 518.3,422.6 519.2,423.2 520.1,423.8 521.0,424.4 521.9,425.0 522.7,425.5 523.6,426.0 524.5,426.5 525.4,426.9 526.3,427.3 527.2,427.6 528.0,427.9 528.9,428.1 529.8,428.3 530.7,428.5" fill="none" stroke="#505050" stroke-width="0.7"/>
<rect x="381.5" y="372.9" width="156.1" height="132.7" fill="none" stroke="#9a9a9a" stroke-width="1"/>
<line x1="379.9" x2="381.5" y1="400.2" y2="400.2" stroke="#9a9a9a" stroke-width="0.8"/>
<text x="377.3" y="400.2" transform="rotate(-90 377.3 400.2)" text-anchor="middle" class="t">2000</text>
<line x1="379.9" x2="381.5" y1="428.2" y2="428.2" stroke="#9a9a9a" stroke-width="0.8"/>
<text x="377.3" y="428.2" transform="rotate(-90 377.3 428.2)" text-anchor="middle" class="t">0</text>
<line x1="379.9" x2="381.5" y1="456.2" y2="456.2" stroke="#9a9a9a" stroke-width="0.8"/>
<line x1="379.9" x2="381.5" y1="484.3" y2="484.3" stroke="#9a9a9a" stroke-width="0.8"/>
<text x="377.3" y="484.3" transform="rotate(-90 377.3 484.3)" text-anchor="middle" class="t">-4000</text>
<text x="370.1" y="439.2" transform="rotate(-90 370.1 439.2)" text-anchor="middle" class="t">Acceleration (deg/%/%)</text>
<text x="459.6" y="370.7" text-anchor="middle" class="tt">2<tspan dy="-3.6" font-size="6.6">nd</tspan><tspan dy="3.6"> derivative</tspan></text>
<text x="280.5" y="529.3" text-anchor="middle" class="cap"><tspan font-weight="normal" font-size="12">(</tspan><tspan dx="0.2">c</tspan><tspan font-weight="normal" font-size="12" dx="0.2">)</tspan></text>
</svg></div>
</body></html>
